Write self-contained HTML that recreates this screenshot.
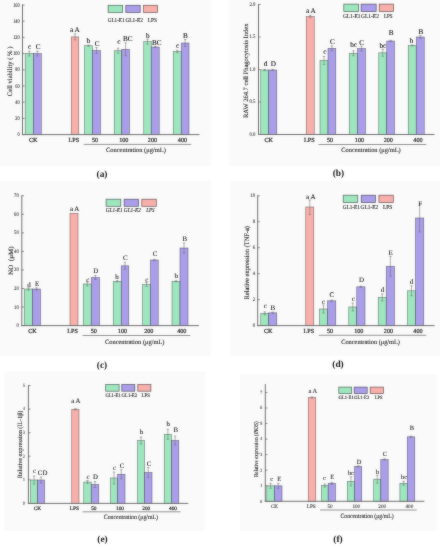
<!DOCTYPE html>
<html><head><meta charset="utf-8"><title>Figure</title>
<style>
html,body{margin:0;padding:0;background:#fff;}
body{width:440px;height:550px;overflow:hidden;}
svg{display:block;font-family:"Liberation Serif",serif;text-rendering:geometricPrecision;will-change:transform;}
#w{width:440px;height:550px;position:absolute;left:0;top:0;}
#b{position:absolute;left:0;top:0;width:440px;height:550px;filter:blur(1px);opacity:0.4;}
</style></head>
<body>
<div id="w">
<svg width="440" height="550" viewBox="0 0 440 550">
<rect x="0" y="0" width="440" height="550" fill="#ffffff"/>
<g id="art">
<rect x="0" y="0" width="211" height="166" fill="#fafafa"/>
<rect x="229" y="0" width="211" height="166" fill="#fafafa"/>
<rect x="0" y="181" width="211" height="175" fill="#fafafa"/>
<rect x="230" y="181" width="210" height="175" fill="#fafafa"/>
<rect x="4.5" y="371.5" width="200.5" height="159.5" fill="#fafafa"/>
<rect x="240" y="374.5" width="197" height="156.5" fill="#fafafa"/>
<rect x="25.20" y="53.50" width="8.20" height="81.10" fill="#9ee7bf" stroke="rgba(0,0,0,0.5)" stroke-width="0.6"/>
<line x1="29.30" y1="51.00" x2="29.30" y2="56.00" stroke="#666" stroke-width="0.5"/>
<line x1="28.10" y1="51.00" x2="30.50" y2="51.00" stroke="#666" stroke-width="0.5"/>
<line x1="28.10" y1="56.00" x2="30.50" y2="56.00" stroke="#666" stroke-width="0.5"/>
<rect x="33.40" y="53.50" width="7.90" height="81.10" fill="#ab9eea" stroke="rgba(0,0,0,0.5)" stroke-width="0.6"/>
<line x1="37.35" y1="51.00" x2="37.35" y2="56.00" stroke="#666" stroke-width="0.5"/>
<line x1="36.15" y1="51.00" x2="38.55" y2="51.00" stroke="#666" stroke-width="0.5"/>
<line x1="36.15" y1="56.00" x2="38.55" y2="56.00" stroke="#666" stroke-width="0.5"/>
<rect x="71.25" y="36.90" width="7.50" height="97.70" fill="#f9afab" stroke="rgba(0,0,0,0.5)" stroke-width="0.6"/>
<line x1="75.00" y1="33.90" x2="75.00" y2="39.90" stroke="#666" stroke-width="0.5"/>
<line x1="73.80" y1="33.90" x2="76.20" y2="33.90" stroke="#666" stroke-width="0.5"/>
<line x1="73.80" y1="39.90" x2="76.20" y2="39.90" stroke="#666" stroke-width="0.5"/>
<rect x="84.50" y="45.70" width="8.00" height="88.90" fill="#9ee7bf" stroke="rgba(0,0,0,0.5)" stroke-width="0.6"/>
<line x1="88.50" y1="45.10" x2="88.50" y2="46.30" stroke="#666" stroke-width="0.5"/>
<line x1="87.30" y1="45.10" x2="89.70" y2="45.10" stroke="#666" stroke-width="0.5"/>
<line x1="87.30" y1="46.30" x2="89.70" y2="46.30" stroke="#666" stroke-width="0.5"/>
<rect x="92.50" y="50.50" width="8.00" height="84.10" fill="#ab9eea" stroke="rgba(0,0,0,0.5)" stroke-width="0.6"/>
<line x1="96.50" y1="47.50" x2="96.50" y2="53.50" stroke="#666" stroke-width="0.5"/>
<line x1="95.30" y1="47.50" x2="97.70" y2="47.50" stroke="#666" stroke-width="0.5"/>
<line x1="95.30" y1="53.50" x2="97.70" y2="53.50" stroke="#666" stroke-width="0.5"/>
<rect x="114.25" y="50.70" width="7.50" height="83.90" fill="#9ee7bf" stroke="rgba(0,0,0,0.5)" stroke-width="0.6"/>
<line x1="118.00" y1="48.20" x2="118.00" y2="53.20" stroke="#666" stroke-width="0.5"/>
<line x1="116.80" y1="48.20" x2="119.20" y2="48.20" stroke="#666" stroke-width="0.5"/>
<line x1="116.80" y1="53.20" x2="119.20" y2="53.20" stroke="#666" stroke-width="0.5"/>
<rect x="121.75" y="49.30" width="7.75" height="85.30" fill="#ab9eea" stroke="rgba(0,0,0,0.5)" stroke-width="0.6"/>
<line x1="125.62" y1="42.80" x2="125.62" y2="55.80" stroke="#666" stroke-width="0.5"/>
<line x1="124.42" y1="42.80" x2="126.83" y2="42.80" stroke="#666" stroke-width="0.5"/>
<line x1="124.42" y1="55.80" x2="126.83" y2="55.80" stroke="#666" stroke-width="0.5"/>
<rect x="143.75" y="41.60" width="7.50" height="93.00" fill="#9ee7bf" stroke="rgba(0,0,0,0.5)" stroke-width="0.6"/>
<line x1="147.50" y1="39.10" x2="147.50" y2="44.10" stroke="#666" stroke-width="0.5"/>
<line x1="146.30" y1="39.10" x2="148.70" y2="39.10" stroke="#666" stroke-width="0.5"/>
<line x1="146.30" y1="44.10" x2="148.70" y2="44.10" stroke="#666" stroke-width="0.5"/>
<rect x="151.25" y="47.00" width="8.00" height="87.60" fill="#ab9eea" stroke="rgba(0,0,0,0.5)" stroke-width="0.6"/>
<line x1="155.25" y1="46.40" x2="155.25" y2="47.60" stroke="#666" stroke-width="0.5"/>
<line x1="154.05" y1="46.40" x2="156.45" y2="46.40" stroke="#666" stroke-width="0.5"/>
<line x1="154.05" y1="47.60" x2="156.45" y2="47.60" stroke="#666" stroke-width="0.5"/>
<rect x="173.25" y="51.50" width="8.00" height="83.10" fill="#9ee7bf" stroke="rgba(0,0,0,0.5)" stroke-width="0.6"/>
<line x1="177.25" y1="50.30" x2="177.25" y2="52.70" stroke="#666" stroke-width="0.5"/>
<line x1="176.05" y1="50.30" x2="178.45" y2="50.30" stroke="#666" stroke-width="0.5"/>
<line x1="176.05" y1="52.70" x2="178.45" y2="52.70" stroke="#666" stroke-width="0.5"/>
<rect x="181.25" y="43.00" width="7.75" height="91.60" fill="#ab9eea" stroke="rgba(0,0,0,0.5)" stroke-width="0.6"/>
<line x1="185.12" y1="39.50" x2="185.12" y2="46.50" stroke="#666" stroke-width="0.5"/>
<line x1="183.93" y1="39.50" x2="186.32" y2="39.50" stroke="#666" stroke-width="0.5"/>
<line x1="183.93" y1="46.50" x2="186.32" y2="46.50" stroke="#666" stroke-width="0.5"/>
<line x1="22.50" y1="4.50" x2="22.50" y2="135.10" stroke="#6e6e6e" stroke-width="1.0"/>
<line x1="22.00" y1="134.60" x2="199.50" y2="134.60" stroke="#6e6e6e" stroke-width="1.0"/>
<line x1="22.50" y1="134.60" x2="24.50" y2="134.60" stroke="#6e6e6e" stroke-width="0.9"/>
<text x="19.60" y="136.15" font-size="5.6" text-anchor="end" font-weight="normal" fill="#2a2a2a" textLength="2.15" lengthAdjust="spacingAndGlyphs" stroke="#2a2a2a" stroke-width="0.08" >0</text>
<line x1="22.50" y1="118.40" x2="24.50" y2="118.40" stroke="#6e6e6e" stroke-width="0.9"/>
<text x="19.60" y="119.95" font-size="5.6" text-anchor="end" font-weight="normal" fill="#2a2a2a" textLength="4.30" lengthAdjust="spacingAndGlyphs" stroke="#2a2a2a" stroke-width="0.08" >20</text>
<line x1="22.50" y1="102.20" x2="24.50" y2="102.20" stroke="#6e6e6e" stroke-width="0.9"/>
<text x="19.60" y="103.75" font-size="5.6" text-anchor="end" font-weight="normal" fill="#2a2a2a" textLength="4.30" lengthAdjust="spacingAndGlyphs" stroke="#2a2a2a" stroke-width="0.08" >40</text>
<line x1="22.50" y1="86.00" x2="24.50" y2="86.00" stroke="#6e6e6e" stroke-width="0.9"/>
<text x="19.60" y="87.55" font-size="5.6" text-anchor="end" font-weight="normal" fill="#2a2a2a" textLength="4.30" lengthAdjust="spacingAndGlyphs" stroke="#2a2a2a" stroke-width="0.08" >60</text>
<line x1="22.50" y1="69.80" x2="24.50" y2="69.80" stroke="#6e6e6e" stroke-width="0.9"/>
<text x="19.60" y="71.35" font-size="5.6" text-anchor="end" font-weight="normal" fill="#2a2a2a" textLength="4.30" lengthAdjust="spacingAndGlyphs" stroke="#2a2a2a" stroke-width="0.08" >80</text>
<line x1="22.50" y1="53.60" x2="24.50" y2="53.60" stroke="#6e6e6e" stroke-width="0.9"/>
<text x="19.60" y="55.15" font-size="5.6" text-anchor="end" font-weight="normal" fill="#2a2a2a" textLength="6.45" lengthAdjust="spacingAndGlyphs" stroke="#2a2a2a" stroke-width="0.08" >100</text>
<line x1="22.50" y1="37.40" x2="24.50" y2="37.40" stroke="#6e6e6e" stroke-width="0.9"/>
<text x="19.60" y="38.95" font-size="5.6" text-anchor="end" font-weight="normal" fill="#2a2a2a" textLength="6.45" lengthAdjust="spacingAndGlyphs" stroke="#2a2a2a" stroke-width="0.08" >120</text>
<line x1="22.50" y1="21.20" x2="24.50" y2="21.20" stroke="#6e6e6e" stroke-width="0.9"/>
<text x="19.60" y="22.75" font-size="5.6" text-anchor="end" font-weight="normal" fill="#2a2a2a" textLength="6.45" lengthAdjust="spacingAndGlyphs" stroke="#2a2a2a" stroke-width="0.08" >140</text>
<line x1="22.50" y1="5.00" x2="24.50" y2="5.00" stroke="#6e6e6e" stroke-width="0.9"/>
<text x="19.60" y="6.55" font-size="5.6" text-anchor="end" font-weight="normal" fill="#2a2a2a" textLength="6.45" lengthAdjust="spacingAndGlyphs" stroke="#2a2a2a" stroke-width="0.08" >160</text>
<text x="29.60" y="48.74" font-size="7.2" text-anchor="middle" font-weight="normal" fill="#000" stroke="#000" stroke-width="0.08">c</text>
<text x="38.10" y="49.18" font-size="7.2" text-anchor="middle" font-weight="normal" fill="#000" stroke="#000" stroke-width="0.08">C</text>
<text x="74.80" y="31.58" font-size="7.2" text-anchor="middle" font-weight="normal" fill="#000" stroke="#000" stroke-width="0.08">a A</text>
<text x="88.30" y="42.58" font-size="7.2" text-anchor="middle" font-weight="normal" fill="#000" stroke="#000" stroke-width="0.08">b</text>
<text x="97.10" y="46.08" font-size="7.2" text-anchor="middle" font-weight="normal" fill="#000" stroke="#000" stroke-width="0.08">C</text>
<text x="118.80" y="43.94" font-size="7.2" text-anchor="middle" font-weight="normal" fill="#000" stroke="#000" stroke-width="0.08">c</text>
<text x="127.80" y="40.98" font-size="7.2" text-anchor="middle" font-weight="normal" fill="#000" stroke="#000" stroke-width="0.08">BC</text>
<text x="147.80" y="38.18" font-size="7.2" text-anchor="middle" font-weight="normal" fill="#000" stroke="#000" stroke-width="0.08">b</text>
<text x="156.80" y="44.78" font-size="7.2" text-anchor="middle" font-weight="normal" fill="#000" stroke="#000" stroke-width="0.08">BC</text>
<text x="177.50" y="47.74" font-size="7.2" text-anchor="middle" font-weight="normal" fill="#000" stroke="#000" stroke-width="0.08">c</text>
<text x="185.50" y="38.48" font-size="7.2" text-anchor="middle" font-weight="normal" fill="#000" stroke="#000" stroke-width="0.08">B</text>
<rect x="108.10" y="5.30" width="14.60" height="7.20" fill="#9ee7bf" stroke="rgba(0,0,0,0.6)" stroke-width="0.7"/>
<text x="116.15" y="21.79" font-size="6.0" text-anchor="middle" font-weight="normal" fill="#222" textLength="16.70" lengthAdjust="spacingAndGlyphs" stroke="#222" stroke-width="0.12" >GL1-E1</text>
<rect x="125.80" y="5.30" width="14.40" height="7.20" fill="#ab9eea" stroke="rgba(0,0,0,0.6)" stroke-width="0.7"/>
<text x="134.15" y="21.79" font-size="6.0" text-anchor="middle" font-weight="normal" fill="#222" textLength="17.50" lengthAdjust="spacingAndGlyphs" stroke="#222" stroke-width="0.12" >GL1-E2</text>
<rect x="143.60" y="5.30" width="14.00" height="7.20" fill="#f9afab" stroke="rgba(0,0,0,0.6)" stroke-width="0.7"/>
<text x="152.30" y="21.79" font-size="6.0" text-anchor="middle" font-weight="normal" fill="#222" textLength="9.20" lengthAdjust="spacingAndGlyphs" stroke="#222" stroke-width="0.12" >LPS</text>
<text x="33.30" y="141.85" font-size="6.2" text-anchor="middle" font-weight="normal" fill="#222" stroke="#222" stroke-width="0.2" >CK</text>
<text x="73.80" y="141.85" font-size="6.2" text-anchor="middle" font-weight="normal" fill="#222" stroke="#222" stroke-width="0.2" >LPS</text>
<text x="95.00" y="142.25" font-size="6.2" text-anchor="middle" font-weight="normal" fill="#222" stroke="#222" stroke-width="0.2" >50</text>
<text x="123.80" y="142.25" font-size="6.2" text-anchor="middle" font-weight="normal" fill="#222" stroke="#222" stroke-width="0.2" >100</text>
<text x="152.50" y="142.25" font-size="6.2" text-anchor="middle" font-weight="normal" fill="#222" stroke="#222" stroke-width="0.2" >200</text>
<text x="182.50" y="142.25" font-size="6.2" text-anchor="middle" font-weight="normal" fill="#222" stroke="#222" stroke-width="0.2" >400</text>
<line x1="83.75" y1="144.40" x2="191.25" y2="144.40" stroke="#777" stroke-width="0.8"/>
<text x="135.90" y="152.38" font-size="6.6" text-anchor="middle" font-weight="normal" fill="#222" textLength="59.80" lengthAdjust="spacingAndGlyphs" stroke="#222" stroke-width="0.1" >Concentration (&#956;g/mL)</text>
<text x="102.00" y="176.61" font-size="9.4" text-anchor="middle" font-weight="bold" fill="#111" >(a)</text>
<text x="9.60" y="73.65" font-size="6.8" text-anchor="middle" font-weight="normal" fill="#222" textLength="49.50" lengthAdjust="spacingAndGlyphs" stroke="#222" stroke-width="0.1" transform="rotate(-90 9.60 71.40)">Cell viability  ( % )</text>
<rect x="260.75" y="70.00" width="8.00" height="64.50" fill="#9ee7bf" stroke="rgba(0,0,0,0.5)" stroke-width="0.6"/>
<line x1="264.75" y1="69.40" x2="264.75" y2="70.60" stroke="#666" stroke-width="0.5"/>
<line x1="263.55" y1="69.40" x2="265.95" y2="69.40" stroke="#666" stroke-width="0.5"/>
<line x1="263.55" y1="70.60" x2="265.95" y2="70.60" stroke="#666" stroke-width="0.5"/>
<rect x="268.75" y="70.00" width="8.00" height="64.50" fill="#ab9eea" stroke="rgba(0,0,0,0.5)" stroke-width="0.6"/>
<line x1="272.75" y1="69.40" x2="272.75" y2="70.60" stroke="#666" stroke-width="0.5"/>
<line x1="271.55" y1="69.40" x2="273.95" y2="69.40" stroke="#666" stroke-width="0.5"/>
<line x1="271.55" y1="70.60" x2="273.95" y2="70.60" stroke="#666" stroke-width="0.5"/>
<rect x="306.25" y="16.50" width="8.00" height="118.00" fill="#f9afab" stroke="rgba(0,0,0,0.5)" stroke-width="0.6"/>
<line x1="310.25" y1="15.30" x2="310.25" y2="17.70" stroke="#666" stroke-width="0.5"/>
<line x1="309.05" y1="15.30" x2="311.45" y2="15.30" stroke="#666" stroke-width="0.5"/>
<line x1="309.05" y1="17.70" x2="311.45" y2="17.70" stroke="#666" stroke-width="0.5"/>
<rect x="320.00" y="60.50" width="8.00" height="74.00" fill="#9ee7bf" stroke="rgba(0,0,0,0.5)" stroke-width="0.6"/>
<line x1="324.00" y1="56.50" x2="324.00" y2="64.50" stroke="#666" stroke-width="0.5"/>
<line x1="322.80" y1="56.50" x2="325.20" y2="56.50" stroke="#666" stroke-width="0.5"/>
<line x1="322.80" y1="64.50" x2="325.20" y2="64.50" stroke="#666" stroke-width="0.5"/>
<rect x="328.00" y="48.30" width="7.75" height="86.20" fill="#ab9eea" stroke="rgba(0,0,0,0.5)" stroke-width="0.6"/>
<line x1="331.88" y1="45.80" x2="331.88" y2="50.80" stroke="#666" stroke-width="0.5"/>
<line x1="330.68" y1="45.80" x2="333.07" y2="45.80" stroke="#666" stroke-width="0.5"/>
<line x1="330.68" y1="50.80" x2="333.07" y2="50.80" stroke="#666" stroke-width="0.5"/>
<rect x="349.25" y="53.30" width="8.25" height="81.20" fill="#9ee7bf" stroke="rgba(0,0,0,0.5)" stroke-width="0.6"/>
<line x1="353.38" y1="50.80" x2="353.38" y2="55.80" stroke="#666" stroke-width="0.5"/>
<line x1="352.18" y1="50.80" x2="354.57" y2="50.80" stroke="#666" stroke-width="0.5"/>
<line x1="352.18" y1="55.80" x2="354.57" y2="55.80" stroke="#666" stroke-width="0.5"/>
<rect x="357.50" y="48.50" width="8.00" height="86.00" fill="#ab9eea" stroke="rgba(0,0,0,0.5)" stroke-width="0.6"/>
<line x1="361.50" y1="46.00" x2="361.50" y2="51.00" stroke="#666" stroke-width="0.5"/>
<line x1="360.30" y1="46.00" x2="362.70" y2="46.00" stroke="#666" stroke-width="0.5"/>
<line x1="360.30" y1="51.00" x2="362.70" y2="51.00" stroke="#666" stroke-width="0.5"/>
<rect x="378.75" y="52.80" width="8.00" height="81.70" fill="#9ee7bf" stroke="rgba(0,0,0,0.5)" stroke-width="0.6"/>
<line x1="382.75" y1="49.30" x2="382.75" y2="56.30" stroke="#666" stroke-width="0.5"/>
<line x1="381.55" y1="49.30" x2="383.95" y2="49.30" stroke="#666" stroke-width="0.5"/>
<line x1="381.55" y1="56.30" x2="383.95" y2="56.30" stroke="#666" stroke-width="0.5"/>
<rect x="386.75" y="41.00" width="7.75" height="93.50" fill="#ab9eea" stroke="rgba(0,0,0,0.5)" stroke-width="0.6"/>
<line x1="390.62" y1="40.40" x2="390.62" y2="41.60" stroke="#666" stroke-width="0.5"/>
<line x1="389.43" y1="40.40" x2="391.82" y2="40.40" stroke="#666" stroke-width="0.5"/>
<line x1="389.43" y1="41.60" x2="391.82" y2="41.60" stroke="#666" stroke-width="0.5"/>
<rect x="408.25" y="45.50" width="8.00" height="89.00" fill="#9ee7bf" stroke="rgba(0,0,0,0.5)" stroke-width="0.6"/>
<line x1="412.25" y1="44.90" x2="412.25" y2="46.10" stroke="#666" stroke-width="0.5"/>
<line x1="411.05" y1="44.90" x2="413.45" y2="44.90" stroke="#666" stroke-width="0.5"/>
<line x1="411.05" y1="46.10" x2="413.45" y2="46.10" stroke="#666" stroke-width="0.5"/>
<rect x="416.25" y="37.00" width="8.00" height="97.50" fill="#ab9eea" stroke="rgba(0,0,0,0.5)" stroke-width="0.6"/>
<line x1="420.25" y1="35.70" x2="420.25" y2="38.30" stroke="#666" stroke-width="0.5"/>
<line x1="419.05" y1="35.70" x2="421.45" y2="35.70" stroke="#666" stroke-width="0.5"/>
<line x1="419.05" y1="38.30" x2="421.45" y2="38.30" stroke="#666" stroke-width="0.5"/>
<line x1="258.50" y1="4.00" x2="258.50" y2="135.00" stroke="#6e6e6e" stroke-width="1.0"/>
<line x1="258.00" y1="134.50" x2="434.50" y2="134.50" stroke="#6e6e6e" stroke-width="1.0"/>
<line x1="258.50" y1="134.50" x2="260.50" y2="134.50" stroke="#6e6e6e" stroke-width="0.9"/>
<text x="255.40" y="135.99" font-size="5.4" text-anchor="end" font-weight="normal" fill="#2a2a2a" textLength="6.00" lengthAdjust="spacingAndGlyphs" stroke="#2a2a2a" stroke-width="0.08" >0.0</text>
<line x1="258.50" y1="102.00" x2="260.50" y2="102.00" stroke="#6e6e6e" stroke-width="0.9"/>
<text x="255.40" y="103.49" font-size="5.4" text-anchor="end" font-weight="normal" fill="#2a2a2a" textLength="6.00" lengthAdjust="spacingAndGlyphs" stroke="#2a2a2a" stroke-width="0.08" >0.5</text>
<line x1="258.50" y1="69.50" x2="260.50" y2="69.50" stroke="#6e6e6e" stroke-width="0.9"/>
<text x="255.40" y="70.99" font-size="5.4" text-anchor="end" font-weight="normal" fill="#2a2a2a" textLength="6.00" lengthAdjust="spacingAndGlyphs" stroke="#2a2a2a" stroke-width="0.08" >1.0</text>
<line x1="258.50" y1="37.00" x2="260.50" y2="37.00" stroke="#6e6e6e" stroke-width="0.9"/>
<text x="255.40" y="38.49" font-size="5.4" text-anchor="end" font-weight="normal" fill="#2a2a2a" textLength="6.00" lengthAdjust="spacingAndGlyphs" stroke="#2a2a2a" stroke-width="0.08" >1.5</text>
<line x1="258.50" y1="4.50" x2="260.50" y2="4.50" stroke="#6e6e6e" stroke-width="0.9"/>
<text x="255.40" y="5.99" font-size="5.4" text-anchor="end" font-weight="normal" fill="#2a2a2a" textLength="6.00" lengthAdjust="spacingAndGlyphs" stroke="#2a2a2a" stroke-width="0.08" >2.0</text>
<text x="265.60" y="65.88" font-size="7.2" text-anchor="middle" font-weight="normal" fill="#000" stroke="#000" stroke-width="0.08">d</text>
<text x="273.30" y="65.88" font-size="7.2" text-anchor="middle" font-weight="normal" fill="#000" stroke="#000" stroke-width="0.08">D</text>
<text x="310.80" y="13.48" font-size="7.2" text-anchor="middle" font-weight="normal" fill="#000" stroke="#000" stroke-width="0.08">a A</text>
<text x="324.80" y="53.94" font-size="7.2" text-anchor="middle" font-weight="normal" fill="#000" stroke="#000" stroke-width="0.08">c</text>
<text x="332.30" y="44.18" font-size="7.2" text-anchor="middle" font-weight="normal" fill="#000" stroke="#000" stroke-width="0.08">C</text>
<text x="353.60" y="47.18" font-size="7.2" text-anchor="middle" font-weight="normal" fill="#000" stroke="#000" stroke-width="0.08">bc</text>
<text x="361.60" y="45.18" font-size="7.2" text-anchor="middle" font-weight="normal" fill="#000" stroke="#000" stroke-width="0.08">C</text>
<text x="382.80" y="47.68" font-size="7.2" text-anchor="middle" font-weight="normal" fill="#000" stroke="#000" stroke-width="0.08">bc</text>
<text x="391.10" y="34.68" font-size="7.2" text-anchor="middle" font-weight="normal" fill="#000" stroke="#000" stroke-width="0.08">B</text>
<text x="411.60" y="42.68" font-size="7.2" text-anchor="middle" font-weight="normal" fill="#000" stroke="#000" stroke-width="0.08">b</text>
<text x="420.80" y="33.98" font-size="7.2" text-anchor="middle" font-weight="normal" fill="#000" stroke="#000" stroke-width="0.08">B</text>
<rect x="343.80" y="4.10" width="14.90" height="7.50" fill="#9ee7bf" stroke="rgba(0,0,0,0.6)" stroke-width="0.7"/>
<text x="351.75" y="17.69" font-size="6.0" text-anchor="middle" font-weight="normal" fill="#222" textLength="17.50" lengthAdjust="spacingAndGlyphs" stroke="#222" stroke-width="0.12" >GL1-E1</text>
<rect x="361.10" y="4.10" width="15.10" height="7.50" fill="#ab9eea" stroke="rgba(0,0,0,0.6)" stroke-width="0.7"/>
<text x="370.00" y="17.69" font-size="6.0" text-anchor="middle" font-weight="normal" fill="#222" textLength="17.80" lengthAdjust="spacingAndGlyphs" stroke="#222" stroke-width="0.12" >GL1-E2</text>
<rect x="379.20" y="4.10" width="14.30" height="7.50" fill="#f9afab" stroke="rgba(0,0,0,0.6)" stroke-width="0.7"/>
<text x="388.20" y="17.69" font-size="6.0" text-anchor="middle" font-weight="normal" fill="#222" textLength="8.60" lengthAdjust="spacingAndGlyphs" stroke="#222" stroke-width="0.12" >LPS</text>
<text x="268.80" y="141.65" font-size="6.2" text-anchor="middle" font-weight="normal" fill="#222" stroke="#222" stroke-width="0.2" >CK</text>
<text x="309.30" y="141.65" font-size="6.2" text-anchor="middle" font-weight="normal" fill="#222" stroke="#222" stroke-width="0.2" >LPS</text>
<text x="330.00" y="142.05" font-size="6.2" text-anchor="middle" font-weight="normal" fill="#222" stroke="#222" stroke-width="0.2" >50</text>
<text x="359.50" y="142.05" font-size="6.2" text-anchor="middle" font-weight="normal" fill="#222" stroke="#222" stroke-width="0.2" >100</text>
<text x="388.30" y="142.05" font-size="6.2" text-anchor="middle" font-weight="normal" fill="#222" stroke="#222" stroke-width="0.2" >200</text>
<text x="418.00" y="142.05" font-size="6.2" text-anchor="middle" font-weight="normal" fill="#222" stroke="#222" stroke-width="0.2" >400</text>
<line x1="318.50" y1="144.50" x2="426.25" y2="144.50" stroke="#777" stroke-width="0.8"/>
<text x="371.00" y="152.38" font-size="6.6" text-anchor="middle" font-weight="normal" fill="#222" textLength="59.50" lengthAdjust="spacingAndGlyphs" stroke="#222" stroke-width="0.1" >Concentration (&#956;g/mL)</text>
<text x="338.40" y="176.41" font-size="9.4" text-anchor="middle" font-weight="bold" fill="#111" >(b)</text>
<text x="245.80" y="72.98" font-size="6.6" text-anchor="middle" font-weight="normal" fill="#222" textLength="94.40" lengthAdjust="spacingAndGlyphs" stroke="#222" stroke-width="0.1" transform="rotate(-90 245.80 70.80)">RAW 264.7 cell Phagocytosis Index</text>
<rect x="24.25" y="289.00" width="8.25" height="36.60" fill="#9ee7bf" stroke="rgba(0,0,0,0.5)" stroke-width="0.6"/>
<line x1="28.38" y1="287.80" x2="28.38" y2="290.20" stroke="#666" stroke-width="0.5"/>
<line x1="27.18" y1="287.80" x2="29.57" y2="287.80" stroke="#666" stroke-width="0.5"/>
<line x1="27.18" y1="290.20" x2="29.57" y2="290.20" stroke="#666" stroke-width="0.5"/>
<rect x="32.50" y="289.00" width="8.00" height="36.60" fill="#ab9eea" stroke="rgba(0,0,0,0.5)" stroke-width="0.6"/>
<line x1="36.50" y1="287.80" x2="36.50" y2="290.20" stroke="#666" stroke-width="0.5"/>
<line x1="35.30" y1="287.80" x2="37.70" y2="287.80" stroke="#666" stroke-width="0.5"/>
<line x1="35.30" y1="290.20" x2="37.70" y2="290.20" stroke="#666" stroke-width="0.5"/>
<rect x="70.00" y="213.30" width="8.00" height="112.30" fill="#f9afab" stroke="rgba(0,0,0,0.5)" stroke-width="0.6"/>
<rect x="83.25" y="284.00" width="8.00" height="41.60" fill="#9ee7bf" stroke="rgba(0,0,0,0.5)" stroke-width="0.6"/>
<line x1="87.25" y1="282.00" x2="87.25" y2="286.00" stroke="#666" stroke-width="0.5"/>
<line x1="86.05" y1="282.00" x2="88.45" y2="282.00" stroke="#666" stroke-width="0.5"/>
<line x1="86.05" y1="286.00" x2="88.45" y2="286.00" stroke="#666" stroke-width="0.5"/>
<rect x="91.25" y="277.50" width="8.25" height="48.10" fill="#ab9eea" stroke="rgba(0,0,0,0.5)" stroke-width="0.6"/>
<line x1="95.38" y1="275.50" x2="95.38" y2="279.50" stroke="#666" stroke-width="0.5"/>
<line x1="94.17" y1="275.50" x2="96.58" y2="275.50" stroke="#666" stroke-width="0.5"/>
<line x1="94.17" y1="279.50" x2="96.58" y2="279.50" stroke="#666" stroke-width="0.5"/>
<rect x="113.25" y="281.30" width="8.00" height="44.30" fill="#9ee7bf" stroke="rgba(0,0,0,0.5)" stroke-width="0.6"/>
<line x1="117.25" y1="280.70" x2="117.25" y2="281.90" stroke="#666" stroke-width="0.5"/>
<line x1="116.05" y1="280.70" x2="118.45" y2="280.70" stroke="#666" stroke-width="0.5"/>
<line x1="116.05" y1="281.90" x2="118.45" y2="281.90" stroke="#666" stroke-width="0.5"/>
<rect x="121.25" y="265.80" width="7.50" height="59.80" fill="#ab9eea" stroke="rgba(0,0,0,0.5)" stroke-width="0.6"/>
<line x1="125.00" y1="262.30" x2="125.00" y2="269.30" stroke="#666" stroke-width="0.5"/>
<line x1="123.80" y1="262.30" x2="126.20" y2="262.30" stroke="#666" stroke-width="0.5"/>
<line x1="123.80" y1="269.30" x2="126.20" y2="269.30" stroke="#666" stroke-width="0.5"/>
<rect x="142.50" y="284.50" width="8.00" height="41.10" fill="#9ee7bf" stroke="rgba(0,0,0,0.5)" stroke-width="0.6"/>
<line x1="146.50" y1="282.50" x2="146.50" y2="286.50" stroke="#666" stroke-width="0.5"/>
<line x1="145.30" y1="282.50" x2="147.70" y2="282.50" stroke="#666" stroke-width="0.5"/>
<line x1="145.30" y1="286.50" x2="147.70" y2="286.50" stroke="#666" stroke-width="0.5"/>
<rect x="150.50" y="260.00" width="7.75" height="65.60" fill="#ab9eea" stroke="rgba(0,0,0,0.5)" stroke-width="0.6"/>
<line x1="154.38" y1="259.40" x2="154.38" y2="260.60" stroke="#666" stroke-width="0.5"/>
<line x1="153.18" y1="259.40" x2="155.57" y2="259.40" stroke="#666" stroke-width="0.5"/>
<line x1="153.18" y1="260.60" x2="155.57" y2="260.60" stroke="#666" stroke-width="0.5"/>
<rect x="172.00" y="281.30" width="8.00" height="44.30" fill="#9ee7bf" stroke="rgba(0,0,0,0.5)" stroke-width="0.6"/>
<line x1="176.00" y1="280.70" x2="176.00" y2="281.90" stroke="#666" stroke-width="0.5"/>
<line x1="174.80" y1="280.70" x2="177.20" y2="280.70" stroke="#666" stroke-width="0.5"/>
<line x1="174.80" y1="281.90" x2="177.20" y2="281.90" stroke="#666" stroke-width="0.5"/>
<rect x="180.00" y="248.00" width="8.00" height="77.60" fill="#ab9eea" stroke="rgba(0,0,0,0.5)" stroke-width="0.6"/>
<line x1="184.00" y1="243.00" x2="184.00" y2="253.00" stroke="#666" stroke-width="0.5"/>
<line x1="182.80" y1="243.00" x2="185.20" y2="243.00" stroke="#666" stroke-width="0.5"/>
<line x1="182.80" y1="253.00" x2="185.20" y2="253.00" stroke="#666" stroke-width="0.5"/>
<line x1="21.80" y1="195.25" x2="21.80" y2="326.10" stroke="#6e6e6e" stroke-width="1.0"/>
<line x1="21.30" y1="325.60" x2="198.90" y2="325.60" stroke="#6e6e6e" stroke-width="1.0"/>
<line x1="21.80" y1="325.60" x2="23.80" y2="325.60" stroke="#6e6e6e" stroke-width="0.9"/>
<text x="18.80" y="327.09" font-size="5.4" text-anchor="end" font-weight="normal" fill="#2a2a2a" textLength="2.35" lengthAdjust="spacingAndGlyphs" stroke="#2a2a2a" stroke-width="0.08" >0</text>
<line x1="21.80" y1="307.05" x2="23.80" y2="307.05" stroke="#6e6e6e" stroke-width="0.9"/>
<text x="18.80" y="308.54" font-size="5.4" text-anchor="end" font-weight="normal" fill="#2a2a2a" textLength="4.70" lengthAdjust="spacingAndGlyphs" stroke="#2a2a2a" stroke-width="0.08" >10</text>
<line x1="21.80" y1="288.50" x2="23.80" y2="288.50" stroke="#6e6e6e" stroke-width="0.9"/>
<text x="18.80" y="289.99" font-size="5.4" text-anchor="end" font-weight="normal" fill="#2a2a2a" textLength="4.70" lengthAdjust="spacingAndGlyphs" stroke="#2a2a2a" stroke-width="0.08" >20</text>
<line x1="21.80" y1="269.95" x2="23.80" y2="269.95" stroke="#6e6e6e" stroke-width="0.9"/>
<text x="18.80" y="271.44" font-size="5.4" text-anchor="end" font-weight="normal" fill="#2a2a2a" textLength="4.70" lengthAdjust="spacingAndGlyphs" stroke="#2a2a2a" stroke-width="0.08" >30</text>
<line x1="21.80" y1="251.40" x2="23.80" y2="251.40" stroke="#6e6e6e" stroke-width="0.9"/>
<text x="18.80" y="252.89" font-size="5.4" text-anchor="end" font-weight="normal" fill="#2a2a2a" textLength="4.70" lengthAdjust="spacingAndGlyphs" stroke="#2a2a2a" stroke-width="0.08" >40</text>
<line x1="21.80" y1="232.85" x2="23.80" y2="232.85" stroke="#6e6e6e" stroke-width="0.9"/>
<text x="18.80" y="234.34" font-size="5.4" text-anchor="end" font-weight="normal" fill="#2a2a2a" textLength="4.70" lengthAdjust="spacingAndGlyphs" stroke="#2a2a2a" stroke-width="0.08" >50</text>
<line x1="21.80" y1="214.30" x2="23.80" y2="214.30" stroke="#6e6e6e" stroke-width="0.9"/>
<text x="18.80" y="215.79" font-size="5.4" text-anchor="end" font-weight="normal" fill="#2a2a2a" textLength="4.70" lengthAdjust="spacingAndGlyphs" stroke="#2a2a2a" stroke-width="0.08" >60</text>
<line x1="21.80" y1="195.75" x2="23.80" y2="195.75" stroke="#6e6e6e" stroke-width="0.9"/>
<text x="18.80" y="197.24" font-size="5.4" text-anchor="end" font-weight="normal" fill="#2a2a2a" textLength="4.70" lengthAdjust="spacingAndGlyphs" stroke="#2a2a2a" stroke-width="0.08" >70</text>
<text x="29.10" y="286.68" font-size="6.9" text-anchor="middle" font-weight="normal" fill="#111" stroke="#111" stroke-width="0.08">d</text>
<text x="37.10" y="286.38" font-size="6.9" text-anchor="middle" font-weight="normal" fill="#111" stroke="#111" stroke-width="0.08">E</text>
<text x="74.60" y="211.38" font-size="6.9" text-anchor="middle" font-weight="normal" fill="#111" stroke="#111" stroke-width="0.08">a A</text>
<text x="87.80" y="281.87" font-size="6.9" text-anchor="middle" font-weight="normal" fill="#111" stroke="#111" stroke-width="0.08">c</text>
<text x="95.80" y="273.38" font-size="6.9" text-anchor="middle" font-weight="normal" fill="#111" stroke="#111" stroke-width="0.08">D</text>
<text x="117.10" y="278.58" font-size="6.9" text-anchor="middle" font-weight="normal" fill="#111" stroke="#111" stroke-width="0.08">b</text>
<text x="125.30" y="260.38" font-size="6.9" text-anchor="middle" font-weight="normal" fill="#111" stroke="#111" stroke-width="0.08">C</text>
<text x="146.90" y="281.77" font-size="6.9" text-anchor="middle" font-weight="normal" fill="#111" stroke="#111" stroke-width="0.08">c</text>
<text x="155.00" y="255.58" font-size="6.9" text-anchor="middle" font-weight="normal" fill="#111" stroke="#111" stroke-width="0.08">C</text>
<text x="176.30" y="278.38" font-size="6.9" text-anchor="middle" font-weight="normal" fill="#111" stroke="#111" stroke-width="0.08">b</text>
<text x="184.70" y="240.88" font-size="6.9" text-anchor="middle" font-weight="normal" fill="#111" stroke="#111" stroke-width="0.08">B</text>
<rect x="106.10" y="199.20" width="14.70" height="7.10" fill="#9ee7bf" stroke="rgba(0,0,0,0.6)" stroke-width="0.7"/>
<text x="114.25" y="212.29" font-size="6.0" text-anchor="middle" font-weight="normal" fill="#222" textLength="16.90" lengthAdjust="spacingAndGlyphs" stroke="#222" stroke-width="0.12" font-style="italic">GL1-E1</text>
<rect x="124.10" y="199.20" width="14.50" height="7.10" fill="#ab9eea" stroke="rgba(0,0,0,0.6)" stroke-width="0.7"/>
<text x="132.35" y="212.29" font-size="6.0" text-anchor="middle" font-weight="normal" fill="#222" textLength="17.10" lengthAdjust="spacingAndGlyphs" stroke="#222" stroke-width="0.12" font-style="italic">GL1-E2</text>
<rect x="141.80" y="199.20" width="14.50" height="7.10" fill="#f9afab" stroke="rgba(0,0,0,0.6)" stroke-width="0.7"/>
<text x="150.40" y="212.29" font-size="6.0" text-anchor="middle" font-weight="normal" fill="#222" textLength="8.20" lengthAdjust="spacingAndGlyphs" stroke="#222" stroke-width="0.12" font-style="italic">LPS</text>
<text x="32.50" y="332.85" font-size="6.2" text-anchor="middle" font-weight="normal" fill="#222" stroke="#222" stroke-width="0.2" >CK</text>
<text x="72.50" y="332.85" font-size="6.2" text-anchor="middle" font-weight="normal" fill="#222" stroke="#222" stroke-width="0.2" >LPS</text>
<text x="93.80" y="333.25" font-size="6.2" text-anchor="middle" font-weight="normal" fill="#222" stroke="#222" stroke-width="0.2" >50</text>
<text x="122.50" y="333.25" font-size="6.2" text-anchor="middle" font-weight="normal" fill="#222" stroke="#222" stroke-width="0.2" >100</text>
<text x="148.80" y="333.25" font-size="6.2" text-anchor="middle" font-weight="normal" fill="#222" stroke="#222" stroke-width="0.2" >200</text>
<text x="181.80" y="333.25" font-size="6.2" text-anchor="middle" font-weight="normal" fill="#222" stroke="#222" stroke-width="0.2" >400</text>
<line x1="82.50" y1="335.50" x2="190.30" y2="335.50" stroke="#777" stroke-width="0.8"/>
<text x="134.75" y="343.68" font-size="6.6" text-anchor="middle" font-weight="normal" fill="#222" textLength="59.50" lengthAdjust="spacingAndGlyphs" stroke="#222" stroke-width="0.1" >Concentration (&#956;g/mL)</text>
<text x="102.00" y="367.61" font-size="9.4" text-anchor="middle" font-weight="bold" fill="#111" >(c)</text>
<text x="10.60" y="262.88" font-size="6.6" text-anchor="middle" font-weight="normal" fill="#222" textLength="28.60" lengthAdjust="spacingAndGlyphs" stroke="#222" stroke-width="0.1" transform="rotate(-90 10.60 260.70)">NO &#160;(&#956;M)</text>
<rect x="260.75" y="313.30" width="8.00" height="12.30" fill="#9ee7bf" stroke="rgba(0,0,0,0.5)" stroke-width="0.6"/>
<line x1="264.75" y1="311.80" x2="264.75" y2="314.80" stroke="#666" stroke-width="0.5"/>
<line x1="263.55" y1="311.80" x2="265.95" y2="311.80" stroke="#666" stroke-width="0.5"/>
<line x1="263.55" y1="314.80" x2="265.95" y2="314.80" stroke="#666" stroke-width="0.5"/>
<rect x="268.75" y="312.80" width="8.00" height="12.80" fill="#ab9eea" stroke="rgba(0,0,0,0.5)" stroke-width="0.6"/>
<line x1="272.75" y1="312.20" x2="272.75" y2="313.40" stroke="#666" stroke-width="0.5"/>
<line x1="271.55" y1="312.20" x2="273.95" y2="312.20" stroke="#666" stroke-width="0.5"/>
<line x1="271.55" y1="313.40" x2="273.95" y2="313.40" stroke="#666" stroke-width="0.5"/>
<rect x="305.75" y="207.00" width="8.00" height="118.60" fill="#f9afab" stroke="rgba(0,0,0,0.5)" stroke-width="0.6"/>
<line x1="309.75" y1="200.00" x2="309.75" y2="214.50" stroke="#666" stroke-width="0.5"/>
<line x1="308.55" y1="200.00" x2="310.95" y2="200.00" stroke="#666" stroke-width="0.5"/>
<line x1="308.55" y1="214.50" x2="310.95" y2="214.50" stroke="#666" stroke-width="0.5"/>
<rect x="319.50" y="309.00" width="8.00" height="16.60" fill="#9ee7bf" stroke="rgba(0,0,0,0.5)" stroke-width="0.6"/>
<line x1="323.50" y1="305.00" x2="323.50" y2="313.00" stroke="#666" stroke-width="0.5"/>
<line x1="322.30" y1="305.00" x2="324.70" y2="305.00" stroke="#666" stroke-width="0.5"/>
<line x1="322.30" y1="313.00" x2="324.70" y2="313.00" stroke="#666" stroke-width="0.5"/>
<rect x="327.50" y="300.80" width="8.25" height="24.80" fill="#ab9eea" stroke="rgba(0,0,0,0.5)" stroke-width="0.6"/>
<line x1="331.62" y1="300.20" x2="331.62" y2="301.40" stroke="#666" stroke-width="0.5"/>
<line x1="330.43" y1="300.20" x2="332.82" y2="300.20" stroke="#666" stroke-width="0.5"/>
<line x1="330.43" y1="301.40" x2="332.82" y2="301.40" stroke="#666" stroke-width="0.5"/>
<rect x="348.75" y="307.00" width="8.00" height="18.60" fill="#9ee7bf" stroke="rgba(0,0,0,0.5)" stroke-width="0.6"/>
<line x1="352.75" y1="303.00" x2="352.75" y2="311.00" stroke="#666" stroke-width="0.5"/>
<line x1="351.55" y1="303.00" x2="353.95" y2="303.00" stroke="#666" stroke-width="0.5"/>
<line x1="351.55" y1="311.00" x2="353.95" y2="311.00" stroke="#666" stroke-width="0.5"/>
<rect x="356.75" y="286.80" width="8.25" height="38.80" fill="#ab9eea" stroke="rgba(0,0,0,0.5)" stroke-width="0.6"/>
<line x1="360.88" y1="286.20" x2="360.88" y2="287.40" stroke="#666" stroke-width="0.5"/>
<line x1="359.68" y1="286.20" x2="362.07" y2="286.20" stroke="#666" stroke-width="0.5"/>
<line x1="359.68" y1="287.40" x2="362.07" y2="287.40" stroke="#666" stroke-width="0.5"/>
<rect x="378.25" y="297.50" width="8.00" height="28.10" fill="#9ee7bf" stroke="rgba(0,0,0,0.5)" stroke-width="0.6"/>
<line x1="382.25" y1="294.00" x2="382.25" y2="301.00" stroke="#666" stroke-width="0.5"/>
<line x1="381.05" y1="294.00" x2="383.45" y2="294.00" stroke="#666" stroke-width="0.5"/>
<line x1="381.05" y1="301.00" x2="383.45" y2="301.00" stroke="#666" stroke-width="0.5"/>
<rect x="386.25" y="266.30" width="8.25" height="59.30" fill="#ab9eea" stroke="rgba(0,0,0,0.5)" stroke-width="0.6"/>
<line x1="390.38" y1="256.30" x2="390.38" y2="276.30" stroke="#666" stroke-width="0.5"/>
<line x1="389.18" y1="256.30" x2="391.57" y2="256.30" stroke="#666" stroke-width="0.5"/>
<line x1="389.18" y1="276.30" x2="391.57" y2="276.30" stroke="#666" stroke-width="0.5"/>
<rect x="407.50" y="290.80" width="8.00" height="34.80" fill="#9ee7bf" stroke="rgba(0,0,0,0.5)" stroke-width="0.6"/>
<line x1="411.50" y1="285.80" x2="411.50" y2="295.80" stroke="#666" stroke-width="0.5"/>
<line x1="410.30" y1="285.80" x2="412.70" y2="285.80" stroke="#666" stroke-width="0.5"/>
<line x1="410.30" y1="295.80" x2="412.70" y2="295.80" stroke="#666" stroke-width="0.5"/>
<rect x="415.50" y="218.00" width="8.25" height="107.60" fill="#ab9eea" stroke="rgba(0,0,0,0.5)" stroke-width="0.6"/>
<line x1="419.62" y1="204.00" x2="419.62" y2="232.00" stroke="#666" stroke-width="0.5"/>
<line x1="418.43" y1="204.00" x2="420.82" y2="204.00" stroke="#666" stroke-width="0.5"/>
<line x1="418.43" y1="232.00" x2="420.82" y2="232.00" stroke="#666" stroke-width="0.5"/>
<line x1="257.70" y1="195.25" x2="257.70" y2="326.10" stroke="#6e6e6e" stroke-width="1.0"/>
<line x1="257.20" y1="325.60" x2="434.50" y2="325.60" stroke="#6e6e6e" stroke-width="1.0"/>
<line x1="257.70" y1="325.60" x2="259.70" y2="325.60" stroke="#6e6e6e" stroke-width="0.9"/>
<text x="255.00" y="327.09" font-size="5.4" text-anchor="end" font-weight="normal" fill="#2a2a2a" textLength="2.35" lengthAdjust="spacingAndGlyphs" stroke="#2a2a2a" stroke-width="0.08" >0</text>
<line x1="257.70" y1="299.63" x2="259.70" y2="299.63" stroke="#6e6e6e" stroke-width="0.9"/>
<text x="255.00" y="301.12" font-size="5.4" text-anchor="end" font-weight="normal" fill="#2a2a2a" textLength="2.35" lengthAdjust="spacingAndGlyphs" stroke="#2a2a2a" stroke-width="0.08" >2</text>
<line x1="257.70" y1="273.66" x2="259.70" y2="273.66" stroke="#6e6e6e" stroke-width="0.9"/>
<text x="255.00" y="275.15" font-size="5.4" text-anchor="end" font-weight="normal" fill="#2a2a2a" textLength="2.35" lengthAdjust="spacingAndGlyphs" stroke="#2a2a2a" stroke-width="0.08" >4</text>
<line x1="257.70" y1="247.69" x2="259.70" y2="247.69" stroke="#6e6e6e" stroke-width="0.9"/>
<text x="255.00" y="249.18" font-size="5.4" text-anchor="end" font-weight="normal" fill="#2a2a2a" textLength="2.35" lengthAdjust="spacingAndGlyphs" stroke="#2a2a2a" stroke-width="0.08" >6</text>
<line x1="257.70" y1="221.72" x2="259.70" y2="221.72" stroke="#6e6e6e" stroke-width="0.9"/>
<text x="255.00" y="223.21" font-size="5.4" text-anchor="end" font-weight="normal" fill="#2a2a2a" textLength="2.35" lengthAdjust="spacingAndGlyphs" stroke="#2a2a2a" stroke-width="0.08" >8</text>
<line x1="257.70" y1="195.75" x2="259.70" y2="195.75" stroke="#6e6e6e" stroke-width="0.9"/>
<text x="255.00" y="197.24" font-size="5.4" text-anchor="end" font-weight="normal" fill="#2a2a2a" textLength="4.70" lengthAdjust="spacingAndGlyphs" stroke="#2a2a2a" stroke-width="0.08" >10</text>
<text x="265.30" y="307.90" font-size="7.0" text-anchor="middle" font-weight="normal" fill="#111" stroke="#111" stroke-width="0.08">c</text>
<text x="272.80" y="309.92" font-size="7.0" text-anchor="middle" font-weight="normal" fill="#111" stroke="#111" stroke-width="0.08">B</text>
<text x="310.80" y="198.92" font-size="7.0" text-anchor="middle" font-weight="normal" fill="#111" stroke="#111" stroke-width="0.08">a A</text>
<text x="323.60" y="303.70" font-size="7.0" text-anchor="middle" font-weight="normal" fill="#111" stroke="#111" stroke-width="0.08">c</text>
<text x="331.90" y="297.02" font-size="7.0" text-anchor="middle" font-weight="normal" fill="#111" stroke="#111" stroke-width="0.08">C</text>
<text x="353.30" y="300.90" font-size="7.0" text-anchor="middle" font-weight="normal" fill="#111" stroke="#111" stroke-width="0.08">c</text>
<text x="361.60" y="281.62" font-size="7.0" text-anchor="middle" font-weight="normal" fill="#111" stroke="#111" stroke-width="0.08">D</text>
<text x="382.60" y="291.52" font-size="7.0" text-anchor="middle" font-weight="normal" fill="#111" stroke="#111" stroke-width="0.08">d</text>
<text x="390.60" y="254.82" font-size="7.0" text-anchor="middle" font-weight="normal" fill="#111" stroke="#111" stroke-width="0.08">E</text>
<text x="411.60" y="283.92" font-size="7.0" text-anchor="middle" font-weight="normal" fill="#111" stroke="#111" stroke-width="0.08">d</text>
<text x="420.30" y="206.12" font-size="7.0" text-anchor="middle" font-weight="normal" fill="#111" stroke="#111" stroke-width="0.08">F</text>
<rect x="343.20" y="195.20" width="14.60" height="7.40" fill="#9ee7bf" stroke="rgba(0,0,0,0.6)" stroke-width="0.7"/>
<text x="351.30" y="208.69" font-size="6.0" text-anchor="middle" font-weight="normal" fill="#222" textLength="17.00" lengthAdjust="spacingAndGlyphs" stroke="#222" stroke-width="0.12" >GL1-E1</text>
<rect x="361.20" y="195.20" width="14.30" height="7.40" fill="#ab9eea" stroke="rgba(0,0,0,0.6)" stroke-width="0.7"/>
<text x="369.35" y="208.69" font-size="6.0" text-anchor="middle" font-weight="normal" fill="#222" textLength="17.70" lengthAdjust="spacingAndGlyphs" stroke="#222" stroke-width="0.12" >GL1-E2</text>
<rect x="378.90" y="195.20" width="14.40" height="7.40" fill="#f9afab" stroke="rgba(0,0,0,0.6)" stroke-width="0.7"/>
<text x="387.65" y="208.69" font-size="6.0" text-anchor="middle" font-weight="normal" fill="#222" textLength="9.30" lengthAdjust="spacingAndGlyphs" stroke="#222" stroke-width="0.12" >LPS</text>
<text x="268.30" y="332.85" font-size="6.2" text-anchor="middle" font-weight="normal" fill="#222" stroke="#222" stroke-width="0.2" >CK</text>
<text x="308.80" y="332.85" font-size="6.2" text-anchor="middle" font-weight="normal" fill="#222" stroke="#222" stroke-width="0.2" >LPS</text>
<text x="330.00" y="333.25" font-size="6.2" text-anchor="middle" font-weight="normal" fill="#222" stroke="#222" stroke-width="0.2" >50</text>
<text x="358.80" y="333.25" font-size="6.2" text-anchor="middle" font-weight="normal" fill="#222" stroke="#222" stroke-width="0.2" >100</text>
<text x="388.50" y="333.25" font-size="6.2" text-anchor="middle" font-weight="normal" fill="#222" stroke="#222" stroke-width="0.2" >200</text>
<text x="418.00" y="333.25" font-size="6.2" text-anchor="middle" font-weight="normal" fill="#222" stroke="#222" stroke-width="0.2" >400</text>
<line x1="318.75" y1="335.30" x2="426.25" y2="335.30" stroke="#777" stroke-width="0.8"/>
<text x="370.62" y="343.68" font-size="6.6" text-anchor="middle" font-weight="normal" fill="#222" textLength="58.75" lengthAdjust="spacingAndGlyphs" stroke="#222" stroke-width="0.1" >Concentration (&#956;g/mL)</text>
<text x="338.00" y="367.11" font-size="9.4" text-anchor="middle" font-weight="bold" fill="#111" >(d)</text>
<text x="246.60" y="264.95" font-size="6.8" text-anchor="middle" font-weight="normal" fill="#222" textLength="73.40" lengthAdjust="spacingAndGlyphs" stroke="#222" stroke-width="0.1" transform="rotate(-90 246.60 262.70)">Relative expression (TNF-a)</text>
<rect x="30.50" y="480.00" width="7.10" height="23.40" fill="#9ee7bf" stroke="rgba(0,0,0,0.5)" stroke-width="0.6"/>
<line x1="34.05" y1="476.00" x2="34.05" y2="484.00" stroke="#666" stroke-width="0.5"/>
<line x1="32.85" y1="476.00" x2="35.25" y2="476.00" stroke="#666" stroke-width="0.5"/>
<line x1="32.85" y1="484.00" x2="35.25" y2="484.00" stroke="#666" stroke-width="0.5"/>
<rect x="37.60" y="480.00" width="7.00" height="23.40" fill="#ab9eea" stroke="rgba(0,0,0,0.5)" stroke-width="0.6"/>
<line x1="41.10" y1="477.00" x2="41.10" y2="483.00" stroke="#666" stroke-width="0.5"/>
<line x1="39.90" y1="477.00" x2="42.30" y2="477.00" stroke="#666" stroke-width="0.5"/>
<line x1="39.90" y1="483.00" x2="42.30" y2="483.00" stroke="#666" stroke-width="0.5"/>
<rect x="71.75" y="409.30" width="7.25" height="94.10" fill="#f9afab" stroke="rgba(0,0,0,0.5)" stroke-width="0.6"/>
<line x1="75.38" y1="408.70" x2="75.38" y2="409.90" stroke="#666" stroke-width="0.5"/>
<line x1="74.17" y1="408.70" x2="76.58" y2="408.70" stroke="#666" stroke-width="0.5"/>
<line x1="74.17" y1="409.90" x2="76.58" y2="409.90" stroke="#666" stroke-width="0.5"/>
<rect x="83.75" y="482.00" width="7.50" height="21.40" fill="#9ee7bf" stroke="rgba(0,0,0,0.5)" stroke-width="0.6"/>
<line x1="87.50" y1="480.50" x2="87.50" y2="483.50" stroke="#666" stroke-width="0.5"/>
<line x1="86.30" y1="480.50" x2="88.70" y2="480.50" stroke="#666" stroke-width="0.5"/>
<line x1="86.30" y1="483.50" x2="88.70" y2="483.50" stroke="#666" stroke-width="0.5"/>
<rect x="91.25" y="484.50" width="7.50" height="18.90" fill="#ab9eea" stroke="rgba(0,0,0,0.5)" stroke-width="0.6"/>
<line x1="95.00" y1="481.50" x2="95.00" y2="487.50" stroke="#666" stroke-width="0.5"/>
<line x1="93.80" y1="481.50" x2="96.20" y2="481.50" stroke="#666" stroke-width="0.5"/>
<line x1="93.80" y1="487.50" x2="96.20" y2="487.50" stroke="#666" stroke-width="0.5"/>
<rect x="110.50" y="478.00" width="7.00" height="25.40" fill="#9ee7bf" stroke="rgba(0,0,0,0.5)" stroke-width="0.6"/>
<line x1="114.00" y1="472.00" x2="114.00" y2="484.00" stroke="#666" stroke-width="0.5"/>
<line x1="112.80" y1="472.00" x2="115.20" y2="472.00" stroke="#666" stroke-width="0.5"/>
<line x1="112.80" y1="484.00" x2="115.20" y2="484.00" stroke="#666" stroke-width="0.5"/>
<rect x="117.50" y="474.30" width="7.50" height="29.10" fill="#ab9eea" stroke="rgba(0,0,0,0.5)" stroke-width="0.6"/>
<line x1="121.25" y1="469.80" x2="121.25" y2="478.80" stroke="#666" stroke-width="0.5"/>
<line x1="120.05" y1="469.80" x2="122.45" y2="469.80" stroke="#666" stroke-width="0.5"/>
<line x1="120.05" y1="478.80" x2="122.45" y2="478.80" stroke="#666" stroke-width="0.5"/>
<rect x="137.50" y="440.50" width="7.00" height="62.90" fill="#9ee7bf" stroke="rgba(0,0,0,0.5)" stroke-width="0.6"/>
<line x1="141.00" y1="437.00" x2="141.00" y2="444.00" stroke="#666" stroke-width="0.5"/>
<line x1="139.80" y1="437.00" x2="142.20" y2="437.00" stroke="#666" stroke-width="0.5"/>
<line x1="139.80" y1="444.00" x2="142.20" y2="444.00" stroke="#666" stroke-width="0.5"/>
<rect x="144.50" y="472.50" width="7.50" height="30.90" fill="#ab9eea" stroke="rgba(0,0,0,0.5)" stroke-width="0.6"/>
<line x1="148.25" y1="467.50" x2="148.25" y2="477.50" stroke="#666" stroke-width="0.5"/>
<line x1="147.05" y1="467.50" x2="149.45" y2="467.50" stroke="#666" stroke-width="0.5"/>
<line x1="147.05" y1="477.50" x2="149.45" y2="477.50" stroke="#666" stroke-width="0.5"/>
<rect x="164.25" y="434.30" width="7.25" height="69.10" fill="#9ee7bf" stroke="rgba(0,0,0,0.5)" stroke-width="0.6"/>
<line x1="167.88" y1="429.30" x2="167.88" y2="439.30" stroke="#666" stroke-width="0.5"/>
<line x1="166.68" y1="429.30" x2="169.07" y2="429.30" stroke="#666" stroke-width="0.5"/>
<line x1="166.68" y1="439.30" x2="169.07" y2="439.30" stroke="#666" stroke-width="0.5"/>
<rect x="171.50" y="440.50" width="7.25" height="62.90" fill="#ab9eea" stroke="rgba(0,0,0,0.5)" stroke-width="0.6"/>
<line x1="175.12" y1="436.00" x2="175.12" y2="445.00" stroke="#666" stroke-width="0.5"/>
<line x1="173.93" y1="436.00" x2="176.32" y2="436.00" stroke="#666" stroke-width="0.5"/>
<line x1="173.93" y1="445.00" x2="176.32" y2="445.00" stroke="#666" stroke-width="0.5"/>
<line x1="28.40" y1="385.00" x2="28.40" y2="503.90" stroke="#6e6e6e" stroke-width="1.0"/>
<line x1="27.90" y1="503.40" x2="188.25" y2="503.40" stroke="#6e6e6e" stroke-width="1.0"/>
<line x1="28.40" y1="503.40" x2="30.40" y2="503.40" stroke="#6e6e6e" stroke-width="0.9"/>
<text x="25.00" y="504.75" font-size="5.0" text-anchor="end" font-weight="normal" fill="#2a2a2a" textLength="1.90" lengthAdjust="spacingAndGlyphs" stroke="#2a2a2a" stroke-width="0.08" >0</text>
<line x1="28.40" y1="479.82" x2="30.40" y2="479.82" stroke="#6e6e6e" stroke-width="0.9"/>
<text x="25.00" y="481.17" font-size="5.0" text-anchor="end" font-weight="normal" fill="#2a2a2a" textLength="1.90" lengthAdjust="spacingAndGlyphs" stroke="#2a2a2a" stroke-width="0.08" >1</text>
<line x1="28.40" y1="456.24" x2="30.40" y2="456.24" stroke="#6e6e6e" stroke-width="0.9"/>
<text x="25.00" y="457.59" font-size="5.0" text-anchor="end" font-weight="normal" fill="#2a2a2a" textLength="1.90" lengthAdjust="spacingAndGlyphs" stroke="#2a2a2a" stroke-width="0.08" >2</text>
<line x1="28.40" y1="432.66" x2="30.40" y2="432.66" stroke="#6e6e6e" stroke-width="0.9"/>
<text x="25.00" y="434.01" font-size="5.0" text-anchor="end" font-weight="normal" fill="#2a2a2a" textLength="1.90" lengthAdjust="spacingAndGlyphs" stroke="#2a2a2a" stroke-width="0.08" >3</text>
<line x1="28.40" y1="409.08" x2="30.40" y2="409.08" stroke="#6e6e6e" stroke-width="0.9"/>
<text x="25.00" y="410.43" font-size="5.0" text-anchor="end" font-weight="normal" fill="#2a2a2a" textLength="1.90" lengthAdjust="spacingAndGlyphs" stroke="#2a2a2a" stroke-width="0.08" >4</text>
<line x1="28.40" y1="385.50" x2="30.40" y2="385.50" stroke="#6e6e6e" stroke-width="0.9"/>
<text x="25.00" y="386.85" font-size="5.0" text-anchor="end" font-weight="normal" fill="#2a2a2a" textLength="1.90" lengthAdjust="spacingAndGlyphs" stroke="#2a2a2a" stroke-width="0.08" >5</text>
<text x="34.60" y="473.35" font-size="6.8" text-anchor="middle" font-weight="normal" fill="#111" stroke="#111" stroke-width="0.08">c</text>
<text x="42.60" y="474.55" font-size="6.8" text-anchor="middle" font-weight="normal" fill="#111" stroke="#111" stroke-width="0.08">CD</text>
<text x="75.90" y="402.65" font-size="6.8" text-anchor="middle" font-weight="normal" fill="#111" stroke="#111" stroke-width="0.08">a A</text>
<text x="87.90" y="479.15" font-size="6.8" text-anchor="middle" font-weight="normal" fill="#111" stroke="#111" stroke-width="0.08">c</text>
<text x="95.50" y="479.35" font-size="6.8" text-anchor="middle" font-weight="normal" fill="#111" stroke="#111" stroke-width="0.08">D</text>
<text x="114.50" y="470.25" font-size="6.8" text-anchor="middle" font-weight="normal" fill="#111" stroke="#111" stroke-width="0.08">c</text>
<text x="121.90" y="467.55" font-size="6.8" text-anchor="middle" font-weight="normal" fill="#111" stroke="#111" stroke-width="0.08">C</text>
<text x="141.50" y="434.05" font-size="6.8" text-anchor="middle" font-weight="normal" fill="#111" stroke="#111" stroke-width="0.08">b</text>
<text x="148.90" y="465.95" font-size="6.8" text-anchor="middle" font-weight="normal" fill="#111" stroke="#111" stroke-width="0.08">C</text>
<text x="168.30" y="425.75" font-size="6.8" text-anchor="middle" font-weight="normal" fill="#111" stroke="#111" stroke-width="0.08">b</text>
<text x="175.70" y="432.15" font-size="6.8" text-anchor="middle" font-weight="normal" fill="#111" stroke="#111" stroke-width="0.08">B</text>
<rect x="105.70" y="384.50" width="13.40" height="6.70" fill="#9ee7bf" stroke="rgba(0,0,0,0.6)" stroke-width="0.7"/>
<text x="113.00" y="397.12" font-size="5.2" text-anchor="middle" font-weight="normal" fill="#222" textLength="15.00" lengthAdjust="spacingAndGlyphs" stroke="#222" stroke-width="0.12" >GL1-E1</text>
<rect x="121.80" y="384.50" width="13.00" height="6.70" fill="#ab9eea" stroke="rgba(0,0,0,0.6)" stroke-width="0.7"/>
<text x="129.35" y="397.12" font-size="5.2" text-anchor="middle" font-weight="normal" fill="#222" textLength="15.50" lengthAdjust="spacingAndGlyphs" stroke="#222" stroke-width="0.12" >GL1-E2</text>
<rect x="137.80" y="384.50" width="13.10" height="6.70" fill="#f9afab" stroke="rgba(0,0,0,0.6)" stroke-width="0.7"/>
<text x="145.70" y="397.12" font-size="5.2" text-anchor="middle" font-weight="normal" fill="#222" textLength="8.20" lengthAdjust="spacingAndGlyphs" stroke="#222" stroke-width="0.12" >LPS</text>
<text x="37.50" y="510.05" font-size="5.3" text-anchor="middle" font-weight="normal" fill="#222" stroke="#222" stroke-width="0.2" >CK</text>
<text x="74.30" y="510.05" font-size="5.3" text-anchor="middle" font-weight="normal" fill="#222" stroke="#222" stroke-width="0.2" >LPS</text>
<text x="93.80" y="510.05" font-size="5.3" text-anchor="middle" font-weight="normal" fill="#222" stroke="#222" stroke-width="0.2" >50</text>
<text x="120.00" y="510.05" font-size="5.3" text-anchor="middle" font-weight="normal" fill="#222" stroke="#222" stroke-width="0.2" >100</text>
<text x="146.30" y="510.05" font-size="5.3" text-anchor="middle" font-weight="normal" fill="#222" stroke="#222" stroke-width="0.2" >200</text>
<text x="173.00" y="510.05" font-size="5.3" text-anchor="middle" font-weight="normal" fill="#222" stroke="#222" stroke-width="0.2" >400</text>
<line x1="82.50" y1="511.80" x2="180.50" y2="511.80" stroke="#777" stroke-width="0.8"/>
<text x="130.88" y="519.18" font-size="6.6" text-anchor="middle" font-weight="normal" fill="#222" textLength="54.25" lengthAdjust="spacingAndGlyphs" stroke="#222" stroke-width="0.1" >Concentration (&#956;g/mL)</text>
<text x="102.50" y="541.91" font-size="9.4" text-anchor="middle" font-weight="bold" fill="#111" >(e)</text>
<text x="19.90" y="446.62" font-size="6.4" text-anchor="middle" font-weight="normal" fill="#222" textLength="67.70" lengthAdjust="spacingAndGlyphs" stroke="#222" stroke-width="0.1" transform="rotate(-90 19.90 444.50)">Relative expression (IL-1&#946;)</text>
<rect x="266.75" y="485.80" width="7.75" height="15.50" fill="#9ee7bf" stroke="rgba(0,0,0,0.5)" stroke-width="0.6"/>
<line x1="270.62" y1="483.30" x2="270.62" y2="488.30" stroke="#666" stroke-width="0.5"/>
<line x1="269.43" y1="483.30" x2="271.82" y2="483.30" stroke="#666" stroke-width="0.5"/>
<line x1="269.43" y1="488.30" x2="271.82" y2="488.30" stroke="#666" stroke-width="0.5"/>
<rect x="274.50" y="485.80" width="7.50" height="15.50" fill="#ab9eea" stroke="rgba(0,0,0,0.5)" stroke-width="0.6"/>
<line x1="278.25" y1="483.30" x2="278.25" y2="488.30" stroke="#666" stroke-width="0.5"/>
<line x1="277.05" y1="483.30" x2="279.45" y2="483.30" stroke="#666" stroke-width="0.5"/>
<line x1="277.05" y1="488.30" x2="279.45" y2="488.30" stroke="#666" stroke-width="0.5"/>
<rect x="308.25" y="397.50" width="7.50" height="103.80" fill="#f9afab" stroke="rgba(0,0,0,0.5)" stroke-width="0.6"/>
<line x1="312.00" y1="396.90" x2="312.00" y2="398.10" stroke="#666" stroke-width="0.5"/>
<line x1="310.80" y1="396.90" x2="313.20" y2="396.90" stroke="#666" stroke-width="0.5"/>
<line x1="310.80" y1="398.10" x2="313.20" y2="398.10" stroke="#666" stroke-width="0.5"/>
<rect x="321.40" y="485.50" width="6.80" height="15.80" fill="#9ee7bf" stroke="rgba(0,0,0,0.5)" stroke-width="0.6"/>
<line x1="324.80" y1="484.00" x2="324.80" y2="487.00" stroke="#666" stroke-width="0.5"/>
<line x1="323.60" y1="484.00" x2="326.00" y2="484.00" stroke="#666" stroke-width="0.5"/>
<line x1="323.60" y1="487.00" x2="326.00" y2="487.00" stroke="#666" stroke-width="0.5"/>
<rect x="328.20" y="483.30" width="7.30" height="18.00" fill="#ab9eea" stroke="rgba(0,0,0,0.5)" stroke-width="0.6"/>
<line x1="331.85" y1="482.30" x2="331.85" y2="484.30" stroke="#666" stroke-width="0.5"/>
<line x1="330.65" y1="482.30" x2="333.05" y2="482.30" stroke="#666" stroke-width="0.5"/>
<line x1="330.65" y1="484.30" x2="333.05" y2="484.30" stroke="#666" stroke-width="0.5"/>
<rect x="347.30" y="481.40" width="7.30" height="19.90" fill="#9ee7bf" stroke="rgba(0,0,0,0.5)" stroke-width="0.6"/>
<line x1="350.95" y1="476.90" x2="350.95" y2="485.90" stroke="#666" stroke-width="0.5"/>
<line x1="349.75" y1="476.90" x2="352.15" y2="476.90" stroke="#666" stroke-width="0.5"/>
<line x1="349.75" y1="485.90" x2="352.15" y2="485.90" stroke="#666" stroke-width="0.5"/>
<rect x="354.60" y="466.40" width="7.10" height="34.90" fill="#ab9eea" stroke="rgba(0,0,0,0.5)" stroke-width="0.6"/>
<line x1="358.15" y1="465.80" x2="358.15" y2="467.00" stroke="#666" stroke-width="0.5"/>
<line x1="356.95" y1="465.80" x2="359.35" y2="465.80" stroke="#666" stroke-width="0.5"/>
<line x1="356.95" y1="467.00" x2="359.35" y2="467.00" stroke="#666" stroke-width="0.5"/>
<rect x="373.70" y="479.20" width="7.10" height="22.10" fill="#9ee7bf" stroke="rgba(0,0,0,0.5)" stroke-width="0.6"/>
<line x1="377.25" y1="475.20" x2="377.25" y2="483.20" stroke="#666" stroke-width="0.5"/>
<line x1="376.05" y1="475.20" x2="378.45" y2="475.20" stroke="#666" stroke-width="0.5"/>
<line x1="376.05" y1="483.20" x2="378.45" y2="483.20" stroke="#666" stroke-width="0.5"/>
<rect x="380.80" y="459.50" width="7.40" height="41.80" fill="#ab9eea" stroke="rgba(0,0,0,0.5)" stroke-width="0.6"/>
<line x1="384.50" y1="458.90" x2="384.50" y2="460.10" stroke="#666" stroke-width="0.5"/>
<line x1="383.30" y1="458.90" x2="385.70" y2="458.90" stroke="#666" stroke-width="0.5"/>
<line x1="383.30" y1="460.10" x2="385.70" y2="460.10" stroke="#666" stroke-width="0.5"/>
<rect x="399.90" y="483.30" width="7.40" height="18.00" fill="#9ee7bf" stroke="rgba(0,0,0,0.5)" stroke-width="0.6"/>
<line x1="403.60" y1="481.30" x2="403.60" y2="485.30" stroke="#666" stroke-width="0.5"/>
<line x1="402.40" y1="481.30" x2="404.80" y2="481.30" stroke="#666" stroke-width="0.5"/>
<line x1="402.40" y1="485.30" x2="404.80" y2="485.30" stroke="#666" stroke-width="0.5"/>
<rect x="407.30" y="436.80" width="7.45" height="64.50" fill="#ab9eea" stroke="rgba(0,0,0,0.5)" stroke-width="0.6"/>
<line x1="411.02" y1="436.20" x2="411.02" y2="437.40" stroke="#666" stroke-width="0.5"/>
<line x1="409.82" y1="436.20" x2="412.22" y2="436.20" stroke="#666" stroke-width="0.5"/>
<line x1="409.82" y1="437.40" x2="412.22" y2="437.40" stroke="#666" stroke-width="0.5"/>
<line x1="265.30" y1="384.10" x2="265.30" y2="501.80" stroke="#6e6e6e" stroke-width="1.0"/>
<line x1="264.80" y1="501.30" x2="424.40" y2="501.30" stroke="#6e6e6e" stroke-width="1.0"/>
<line x1="265.30" y1="501.30" x2="267.30" y2="501.30" stroke="#6e6e6e" stroke-width="0.9"/>
<text x="262.30" y="502.62" font-size="4.9" text-anchor="end" font-weight="normal" fill="#2a2a2a" textLength="2.00" lengthAdjust="spacingAndGlyphs" stroke="#2a2a2a" stroke-width="0.08" >0</text>
<line x1="265.30" y1="485.75" x2="267.30" y2="485.75" stroke="#6e6e6e" stroke-width="0.9"/>
<text x="262.30" y="487.07" font-size="4.9" text-anchor="end" font-weight="normal" fill="#2a2a2a" textLength="2.00" lengthAdjust="spacingAndGlyphs" stroke="#2a2a2a" stroke-width="0.08" >1</text>
<line x1="265.30" y1="470.20" x2="267.30" y2="470.20" stroke="#6e6e6e" stroke-width="0.9"/>
<text x="262.30" y="471.52" font-size="4.9" text-anchor="end" font-weight="normal" fill="#2a2a2a" textLength="2.00" lengthAdjust="spacingAndGlyphs" stroke="#2a2a2a" stroke-width="0.08" >2</text>
<line x1="265.30" y1="454.65" x2="267.30" y2="454.65" stroke="#6e6e6e" stroke-width="0.9"/>
<text x="262.30" y="455.97" font-size="4.9" text-anchor="end" font-weight="normal" fill="#2a2a2a" textLength="2.00" lengthAdjust="spacingAndGlyphs" stroke="#2a2a2a" stroke-width="0.08" >3</text>
<line x1="265.30" y1="439.10" x2="267.30" y2="439.10" stroke="#6e6e6e" stroke-width="0.9"/>
<text x="262.30" y="440.42" font-size="4.9" text-anchor="end" font-weight="normal" fill="#2a2a2a" textLength="2.00" lengthAdjust="spacingAndGlyphs" stroke="#2a2a2a" stroke-width="0.08" >4</text>
<line x1="265.30" y1="423.55" x2="267.30" y2="423.55" stroke="#6e6e6e" stroke-width="0.9"/>
<text x="262.30" y="424.87" font-size="4.9" text-anchor="end" font-weight="normal" fill="#2a2a2a" textLength="2.00" lengthAdjust="spacingAndGlyphs" stroke="#2a2a2a" stroke-width="0.08" >5</text>
<line x1="265.30" y1="408.00" x2="267.30" y2="408.00" stroke="#6e6e6e" stroke-width="0.9"/>
<text x="262.30" y="409.32" font-size="4.9" text-anchor="end" font-weight="normal" fill="#2a2a2a" textLength="2.00" lengthAdjust="spacingAndGlyphs" stroke="#2a2a2a" stroke-width="0.08" >6</text>
<line x1="265.30" y1="392.45" x2="267.30" y2="392.45" stroke="#6e6e6e" stroke-width="0.9"/>
<text x="262.30" y="393.77" font-size="4.9" text-anchor="end" font-weight="normal" fill="#2a2a2a" textLength="2.00" lengthAdjust="spacingAndGlyphs" stroke="#2a2a2a" stroke-width="0.08" >7</text>
<text x="271.60" y="480.76" font-size="6.4" text-anchor="middle" font-weight="normal" fill="#1a1a1a" stroke="#1a1a1a" stroke-width="0.08">c</text>
<text x="279.10" y="480.72" font-size="6.4" text-anchor="middle" font-weight="normal" fill="#1a1a1a" stroke="#1a1a1a" stroke-width="0.08">E</text>
<text x="312.80" y="393.22" font-size="6.4" text-anchor="middle" font-weight="normal" fill="#1a1a1a" stroke="#1a1a1a" stroke-width="0.08">a A</text>
<text x="324.40" y="479.86" font-size="6.4" text-anchor="middle" font-weight="normal" fill="#1a1a1a" stroke="#1a1a1a" stroke-width="0.08">c</text>
<text x="332.30" y="479.02" font-size="6.4" text-anchor="middle" font-weight="normal" fill="#1a1a1a" stroke="#1a1a1a" stroke-width="0.08">E</text>
<text x="350.90" y="474.92" font-size="6.4" text-anchor="middle" font-weight="normal" fill="#1a1a1a" stroke="#1a1a1a" stroke-width="0.08">bc</text>
<text x="359.00" y="464.22" font-size="6.4" text-anchor="middle" font-weight="normal" fill="#1a1a1a" stroke="#1a1a1a" stroke-width="0.08">D</text>
<text x="377.40" y="473.77" font-size="6.4" text-anchor="middle" font-weight="normal" fill="#1a1a1a" stroke="#1a1a1a" stroke-width="0.08">b</text>
<text x="384.80" y="455.72" font-size="6.4" text-anchor="middle" font-weight="normal" fill="#1a1a1a" stroke="#1a1a1a" stroke-width="0.08">C</text>
<text x="404.00" y="479.02" font-size="6.4" text-anchor="middle" font-weight="normal" fill="#1a1a1a" stroke="#1a1a1a" stroke-width="0.08">bc</text>
<text x="411.80" y="430.12" font-size="6.4" text-anchor="middle" font-weight="normal" fill="#1a1a1a" stroke="#1a1a1a" stroke-width="0.08">B</text>
<rect x="338.80" y="387.10" width="12.90" height="6.50" fill="#9ee7bf" stroke="rgba(0,0,0,0.6)" stroke-width="0.7"/>
<text x="346.10" y="399.49" font-size="4.8" text-anchor="middle" font-weight="normal" fill="#222" textLength="15.40" lengthAdjust="spacingAndGlyphs" stroke="#222" stroke-width="0.12" >GL1-E1</text>
<rect x="354.20" y="387.10" width="13.00" height="6.50" fill="#ab9eea" stroke="rgba(0,0,0,0.6)" stroke-width="0.7"/>
<text x="361.70" y="399.49" font-size="4.8" text-anchor="middle" font-weight="normal" fill="#222" textLength="15.00" lengthAdjust="spacingAndGlyphs" stroke="#222" stroke-width="0.12" >GL1-E2</text>
<rect x="370.20" y="387.10" width="13.20" height="6.50" fill="#f9afab" stroke="rgba(0,0,0,0.6)" stroke-width="0.7"/>
<text x="378.55" y="399.49" font-size="4.8" text-anchor="middle" font-weight="normal" fill="#222" textLength="7.70" lengthAdjust="spacingAndGlyphs" stroke="#222" stroke-width="0.12" >LPS</text>
<text x="274.50" y="507.72" font-size="5.2" text-anchor="middle" font-weight="normal" fill="#333" stroke="#333" stroke-width="0.1" >CK</text>
<text x="311.30" y="507.72" font-size="5.2" text-anchor="middle" font-weight="normal" fill="#333" stroke="#333" stroke-width="0.1" >LPS</text>
<text x="330.00" y="508.12" font-size="5.2" text-anchor="middle" font-weight="normal" fill="#333" stroke="#333" stroke-width="0.1" >50</text>
<text x="356.30" y="508.12" font-size="5.2" text-anchor="middle" font-weight="normal" fill="#333" stroke="#333" stroke-width="0.1" >100</text>
<text x="382.20" y="508.12" font-size="5.2" text-anchor="middle" font-weight="normal" fill="#333" stroke="#333" stroke-width="0.1" >200</text>
<text x="409.40" y="508.12" font-size="5.2" text-anchor="middle" font-weight="normal" fill="#333" stroke="#333" stroke-width="0.1" >400</text>
<line x1="320.00" y1="510.00" x2="416.80" y2="510.00" stroke="#777" stroke-width="0.8"/>
<text x="367.05" y="517.68" font-size="6.6" text-anchor="middle" font-weight="normal" fill="#222" textLength="53.10" lengthAdjust="spacingAndGlyphs" stroke="#222" stroke-width="0.1" >Concentration (&#956;g/mL)</text>
<text x="338.00" y="542.01" font-size="9.4" text-anchor="middle" font-weight="bold" fill="#111" >(f)</text>
<text x="255.70" y="451.19" font-size="6.0" text-anchor="middle" font-weight="normal" fill="#222" textLength="55.70" lengthAdjust="spacingAndGlyphs" stroke="#222" stroke-width="0.1" transform="rotate(-90 255.70 449.20)">Relative expression (iNOS)</text>
</g>
</svg>
</div>
<div id="b"><svg width="440" height="550" viewBox="0 0 440 550"><rect x="0" y="0" width="440" height="550" fill="#ffffff"/><rect x="0" y="0" width="211" height="166" fill="#fafafa"/>
<rect x="229" y="0" width="211" height="166" fill="#fafafa"/>
<rect x="0" y="181" width="211" height="175" fill="#fafafa"/>
<rect x="230" y="181" width="210" height="175" fill="#fafafa"/>
<rect x="4.5" y="371.5" width="200.5" height="159.5" fill="#fafafa"/>
<rect x="240" y="374.5" width="197" height="156.5" fill="#fafafa"/>
<rect x="25.20" y="53.50" width="8.20" height="81.10" fill="#9ee7bf" stroke="rgba(0,0,0,0.5)" stroke-width="0.6"/>
<line x1="29.30" y1="51.00" x2="29.30" y2="56.00" stroke="#666" stroke-width="0.5"/>
<line x1="28.10" y1="51.00" x2="30.50" y2="51.00" stroke="#666" stroke-width="0.5"/>
<line x1="28.10" y1="56.00" x2="30.50" y2="56.00" stroke="#666" stroke-width="0.5"/>
<rect x="33.40" y="53.50" width="7.90" height="81.10" fill="#ab9eea" stroke="rgba(0,0,0,0.5)" stroke-width="0.6"/>
<line x1="37.35" y1="51.00" x2="37.35" y2="56.00" stroke="#666" stroke-width="0.5"/>
<line x1="36.15" y1="51.00" x2="38.55" y2="51.00" stroke="#666" stroke-width="0.5"/>
<line x1="36.15" y1="56.00" x2="38.55" y2="56.00" stroke="#666" stroke-width="0.5"/>
<rect x="71.25" y="36.90" width="7.50" height="97.70" fill="#f9afab" stroke="rgba(0,0,0,0.5)" stroke-width="0.6"/>
<line x1="75.00" y1="33.90" x2="75.00" y2="39.90" stroke="#666" stroke-width="0.5"/>
<line x1="73.80" y1="33.90" x2="76.20" y2="33.90" stroke="#666" stroke-width="0.5"/>
<line x1="73.80" y1="39.90" x2="76.20" y2="39.90" stroke="#666" stroke-width="0.5"/>
<rect x="84.50" y="45.70" width="8.00" height="88.90" fill="#9ee7bf" stroke="rgba(0,0,0,0.5)" stroke-width="0.6"/>
<line x1="88.50" y1="45.10" x2="88.50" y2="46.30" stroke="#666" stroke-width="0.5"/>
<line x1="87.30" y1="45.10" x2="89.70" y2="45.10" stroke="#666" stroke-width="0.5"/>
<line x1="87.30" y1="46.30" x2="89.70" y2="46.30" stroke="#666" stroke-width="0.5"/>
<rect x="92.50" y="50.50" width="8.00" height="84.10" fill="#ab9eea" stroke="rgba(0,0,0,0.5)" stroke-width="0.6"/>
<line x1="96.50" y1="47.50" x2="96.50" y2="53.50" stroke="#666" stroke-width="0.5"/>
<line x1="95.30" y1="47.50" x2="97.70" y2="47.50" stroke="#666" stroke-width="0.5"/>
<line x1="95.30" y1="53.50" x2="97.70" y2="53.50" stroke="#666" stroke-width="0.5"/>
<rect x="114.25" y="50.70" width="7.50" height="83.90" fill="#9ee7bf" stroke="rgba(0,0,0,0.5)" stroke-width="0.6"/>
<line x1="118.00" y1="48.20" x2="118.00" y2="53.20" stroke="#666" stroke-width="0.5"/>
<line x1="116.80" y1="48.20" x2="119.20" y2="48.20" stroke="#666" stroke-width="0.5"/>
<line x1="116.80" y1="53.20" x2="119.20" y2="53.20" stroke="#666" stroke-width="0.5"/>
<rect x="121.75" y="49.30" width="7.75" height="85.30" fill="#ab9eea" stroke="rgba(0,0,0,0.5)" stroke-width="0.6"/>
<line x1="125.62" y1="42.80" x2="125.62" y2="55.80" stroke="#666" stroke-width="0.5"/>
<line x1="124.42" y1="42.80" x2="126.83" y2="42.80" stroke="#666" stroke-width="0.5"/>
<line x1="124.42" y1="55.80" x2="126.83" y2="55.80" stroke="#666" stroke-width="0.5"/>
<rect x="143.75" y="41.60" width="7.50" height="93.00" fill="#9ee7bf" stroke="rgba(0,0,0,0.5)" stroke-width="0.6"/>
<line x1="147.50" y1="39.10" x2="147.50" y2="44.10" stroke="#666" stroke-width="0.5"/>
<line x1="146.30" y1="39.10" x2="148.70" y2="39.10" stroke="#666" stroke-width="0.5"/>
<line x1="146.30" y1="44.10" x2="148.70" y2="44.10" stroke="#666" stroke-width="0.5"/>
<rect x="151.25" y="47.00" width="8.00" height="87.60" fill="#ab9eea" stroke="rgba(0,0,0,0.5)" stroke-width="0.6"/>
<line x1="155.25" y1="46.40" x2="155.25" y2="47.60" stroke="#666" stroke-width="0.5"/>
<line x1="154.05" y1="46.40" x2="156.45" y2="46.40" stroke="#666" stroke-width="0.5"/>
<line x1="154.05" y1="47.60" x2="156.45" y2="47.60" stroke="#666" stroke-width="0.5"/>
<rect x="173.25" y="51.50" width="8.00" height="83.10" fill="#9ee7bf" stroke="rgba(0,0,0,0.5)" stroke-width="0.6"/>
<line x1="177.25" y1="50.30" x2="177.25" y2="52.70" stroke="#666" stroke-width="0.5"/>
<line x1="176.05" y1="50.30" x2="178.45" y2="50.30" stroke="#666" stroke-width="0.5"/>
<line x1="176.05" y1="52.70" x2="178.45" y2="52.70" stroke="#666" stroke-width="0.5"/>
<rect x="181.25" y="43.00" width="7.75" height="91.60" fill="#ab9eea" stroke="rgba(0,0,0,0.5)" stroke-width="0.6"/>
<line x1="185.12" y1="39.50" x2="185.12" y2="46.50" stroke="#666" stroke-width="0.5"/>
<line x1="183.93" y1="39.50" x2="186.32" y2="39.50" stroke="#666" stroke-width="0.5"/>
<line x1="183.93" y1="46.50" x2="186.32" y2="46.50" stroke="#666" stroke-width="0.5"/>
<line x1="22.50" y1="4.50" x2="22.50" y2="135.10" stroke="#6e6e6e" stroke-width="1.0"/>
<line x1="22.00" y1="134.60" x2="199.50" y2="134.60" stroke="#6e6e6e" stroke-width="1.0"/>
<line x1="22.50" y1="134.60" x2="24.50" y2="134.60" stroke="#6e6e6e" stroke-width="0.9"/>
<text x="19.60" y="136.15" font-size="5.6" text-anchor="end" font-weight="normal" fill="#2a2a2a" textLength="2.15" lengthAdjust="spacingAndGlyphs" stroke="#2a2a2a" stroke-width="0.08" >0</text>
<line x1="22.50" y1="118.40" x2="24.50" y2="118.40" stroke="#6e6e6e" stroke-width="0.9"/>
<text x="19.60" y="119.95" font-size="5.6" text-anchor="end" font-weight="normal" fill="#2a2a2a" textLength="4.30" lengthAdjust="spacingAndGlyphs" stroke="#2a2a2a" stroke-width="0.08" >20</text>
<line x1="22.50" y1="102.20" x2="24.50" y2="102.20" stroke="#6e6e6e" stroke-width="0.9"/>
<text x="19.60" y="103.75" font-size="5.6" text-anchor="end" font-weight="normal" fill="#2a2a2a" textLength="4.30" lengthAdjust="spacingAndGlyphs" stroke="#2a2a2a" stroke-width="0.08" >40</text>
<line x1="22.50" y1="86.00" x2="24.50" y2="86.00" stroke="#6e6e6e" stroke-width="0.9"/>
<text x="19.60" y="87.55" font-size="5.6" text-anchor="end" font-weight="normal" fill="#2a2a2a" textLength="4.30" lengthAdjust="spacingAndGlyphs" stroke="#2a2a2a" stroke-width="0.08" >60</text>
<line x1="22.50" y1="69.80" x2="24.50" y2="69.80" stroke="#6e6e6e" stroke-width="0.9"/>
<text x="19.60" y="71.35" font-size="5.6" text-anchor="end" font-weight="normal" fill="#2a2a2a" textLength="4.30" lengthAdjust="spacingAndGlyphs" stroke="#2a2a2a" stroke-width="0.08" >80</text>
<line x1="22.50" y1="53.60" x2="24.50" y2="53.60" stroke="#6e6e6e" stroke-width="0.9"/>
<text x="19.60" y="55.15" font-size="5.6" text-anchor="end" font-weight="normal" fill="#2a2a2a" textLength="6.45" lengthAdjust="spacingAndGlyphs" stroke="#2a2a2a" stroke-width="0.08" >100</text>
<line x1="22.50" y1="37.40" x2="24.50" y2="37.40" stroke="#6e6e6e" stroke-width="0.9"/>
<text x="19.60" y="38.95" font-size="5.6" text-anchor="end" font-weight="normal" fill="#2a2a2a" textLength="6.45" lengthAdjust="spacingAndGlyphs" stroke="#2a2a2a" stroke-width="0.08" >120</text>
<line x1="22.50" y1="21.20" x2="24.50" y2="21.20" stroke="#6e6e6e" stroke-width="0.9"/>
<text x="19.60" y="22.75" font-size="5.6" text-anchor="end" font-weight="normal" fill="#2a2a2a" textLength="6.45" lengthAdjust="spacingAndGlyphs" stroke="#2a2a2a" stroke-width="0.08" >140</text>
<line x1="22.50" y1="5.00" x2="24.50" y2="5.00" stroke="#6e6e6e" stroke-width="0.9"/>
<text x="19.60" y="6.55" font-size="5.6" text-anchor="end" font-weight="normal" fill="#2a2a2a" textLength="6.45" lengthAdjust="spacingAndGlyphs" stroke="#2a2a2a" stroke-width="0.08" >160</text>
<text x="29.60" y="48.74" font-size="7.2" text-anchor="middle" font-weight="normal" fill="#000" stroke="#000" stroke-width="0.08">c</text>
<text x="38.10" y="49.18" font-size="7.2" text-anchor="middle" font-weight="normal" fill="#000" stroke="#000" stroke-width="0.08">C</text>
<text x="74.80" y="31.58" font-size="7.2" text-anchor="middle" font-weight="normal" fill="#000" stroke="#000" stroke-width="0.08">a A</text>
<text x="88.30" y="42.58" font-size="7.2" text-anchor="middle" font-weight="normal" fill="#000" stroke="#000" stroke-width="0.08">b</text>
<text x="97.10" y="46.08" font-size="7.2" text-anchor="middle" font-weight="normal" fill="#000" stroke="#000" stroke-width="0.08">C</text>
<text x="118.80" y="43.94" font-size="7.2" text-anchor="middle" font-weight="normal" fill="#000" stroke="#000" stroke-width="0.08">c</text>
<text x="127.80" y="40.98" font-size="7.2" text-anchor="middle" font-weight="normal" fill="#000" stroke="#000" stroke-width="0.08">BC</text>
<text x="147.80" y="38.18" font-size="7.2" text-anchor="middle" font-weight="normal" fill="#000" stroke="#000" stroke-width="0.08">b</text>
<text x="156.80" y="44.78" font-size="7.2" text-anchor="middle" font-weight="normal" fill="#000" stroke="#000" stroke-width="0.08">BC</text>
<text x="177.50" y="47.74" font-size="7.2" text-anchor="middle" font-weight="normal" fill="#000" stroke="#000" stroke-width="0.08">c</text>
<text x="185.50" y="38.48" font-size="7.2" text-anchor="middle" font-weight="normal" fill="#000" stroke="#000" stroke-width="0.08">B</text>
<rect x="108.10" y="5.30" width="14.60" height="7.20" fill="#9ee7bf" stroke="rgba(0,0,0,0.6)" stroke-width="0.7"/>
<text x="116.15" y="21.79" font-size="6.0" text-anchor="middle" font-weight="normal" fill="#222" textLength="16.70" lengthAdjust="spacingAndGlyphs" stroke="#222" stroke-width="0.12" >GL1-E1</text>
<rect x="125.80" y="5.30" width="14.40" height="7.20" fill="#ab9eea" stroke="rgba(0,0,0,0.6)" stroke-width="0.7"/>
<text x="134.15" y="21.79" font-size="6.0" text-anchor="middle" font-weight="normal" fill="#222" textLength="17.50" lengthAdjust="spacingAndGlyphs" stroke="#222" stroke-width="0.12" >GL1-E2</text>
<rect x="143.60" y="5.30" width="14.00" height="7.20" fill="#f9afab" stroke="rgba(0,0,0,0.6)" stroke-width="0.7"/>
<text x="152.30" y="21.79" font-size="6.0" text-anchor="middle" font-weight="normal" fill="#222" textLength="9.20" lengthAdjust="spacingAndGlyphs" stroke="#222" stroke-width="0.12" >LPS</text>
<text x="33.30" y="141.85" font-size="6.2" text-anchor="middle" font-weight="normal" fill="#222" stroke="#222" stroke-width="0.2" >CK</text>
<text x="73.80" y="141.85" font-size="6.2" text-anchor="middle" font-weight="normal" fill="#222" stroke="#222" stroke-width="0.2" >LPS</text>
<text x="95.00" y="142.25" font-size="6.2" text-anchor="middle" font-weight="normal" fill="#222" stroke="#222" stroke-width="0.2" >50</text>
<text x="123.80" y="142.25" font-size="6.2" text-anchor="middle" font-weight="normal" fill="#222" stroke="#222" stroke-width="0.2" >100</text>
<text x="152.50" y="142.25" font-size="6.2" text-anchor="middle" font-weight="normal" fill="#222" stroke="#222" stroke-width="0.2" >200</text>
<text x="182.50" y="142.25" font-size="6.2" text-anchor="middle" font-weight="normal" fill="#222" stroke="#222" stroke-width="0.2" >400</text>
<line x1="83.75" y1="144.40" x2="191.25" y2="144.40" stroke="#777" stroke-width="0.8"/>
<text x="135.90" y="152.38" font-size="6.6" text-anchor="middle" font-weight="normal" fill="#222" textLength="59.80" lengthAdjust="spacingAndGlyphs" stroke="#222" stroke-width="0.1" >Concentration (&#956;g/mL)</text>
<text x="102.00" y="176.61" font-size="9.4" text-anchor="middle" font-weight="bold" fill="#111" >(a)</text>
<text x="9.60" y="73.65" font-size="6.8" text-anchor="middle" font-weight="normal" fill="#222" textLength="49.50" lengthAdjust="spacingAndGlyphs" stroke="#222" stroke-width="0.1" transform="rotate(-90 9.60 71.40)">Cell viability  ( % )</text>
<rect x="260.75" y="70.00" width="8.00" height="64.50" fill="#9ee7bf" stroke="rgba(0,0,0,0.5)" stroke-width="0.6"/>
<line x1="264.75" y1="69.40" x2="264.75" y2="70.60" stroke="#666" stroke-width="0.5"/>
<line x1="263.55" y1="69.40" x2="265.95" y2="69.40" stroke="#666" stroke-width="0.5"/>
<line x1="263.55" y1="70.60" x2="265.95" y2="70.60" stroke="#666" stroke-width="0.5"/>
<rect x="268.75" y="70.00" width="8.00" height="64.50" fill="#ab9eea" stroke="rgba(0,0,0,0.5)" stroke-width="0.6"/>
<line x1="272.75" y1="69.40" x2="272.75" y2="70.60" stroke="#666" stroke-width="0.5"/>
<line x1="271.55" y1="69.40" x2="273.95" y2="69.40" stroke="#666" stroke-width="0.5"/>
<line x1="271.55" y1="70.60" x2="273.95" y2="70.60" stroke="#666" stroke-width="0.5"/>
<rect x="306.25" y="16.50" width="8.00" height="118.00" fill="#f9afab" stroke="rgba(0,0,0,0.5)" stroke-width="0.6"/>
<line x1="310.25" y1="15.30" x2="310.25" y2="17.70" stroke="#666" stroke-width="0.5"/>
<line x1="309.05" y1="15.30" x2="311.45" y2="15.30" stroke="#666" stroke-width="0.5"/>
<line x1="309.05" y1="17.70" x2="311.45" y2="17.70" stroke="#666" stroke-width="0.5"/>
<rect x="320.00" y="60.50" width="8.00" height="74.00" fill="#9ee7bf" stroke="rgba(0,0,0,0.5)" stroke-width="0.6"/>
<line x1="324.00" y1="56.50" x2="324.00" y2="64.50" stroke="#666" stroke-width="0.5"/>
<line x1="322.80" y1="56.50" x2="325.20" y2="56.50" stroke="#666" stroke-width="0.5"/>
<line x1="322.80" y1="64.50" x2="325.20" y2="64.50" stroke="#666" stroke-width="0.5"/>
<rect x="328.00" y="48.30" width="7.75" height="86.20" fill="#ab9eea" stroke="rgba(0,0,0,0.5)" stroke-width="0.6"/>
<line x1="331.88" y1="45.80" x2="331.88" y2="50.80" stroke="#666" stroke-width="0.5"/>
<line x1="330.68" y1="45.80" x2="333.07" y2="45.80" stroke="#666" stroke-width="0.5"/>
<line x1="330.68" y1="50.80" x2="333.07" y2="50.80" stroke="#666" stroke-width="0.5"/>
<rect x="349.25" y="53.30" width="8.25" height="81.20" fill="#9ee7bf" stroke="rgba(0,0,0,0.5)" stroke-width="0.6"/>
<line x1="353.38" y1="50.80" x2="353.38" y2="55.80" stroke="#666" stroke-width="0.5"/>
<line x1="352.18" y1="50.80" x2="354.57" y2="50.80" stroke="#666" stroke-width="0.5"/>
<line x1="352.18" y1="55.80" x2="354.57" y2="55.80" stroke="#666" stroke-width="0.5"/>
<rect x="357.50" y="48.50" width="8.00" height="86.00" fill="#ab9eea" stroke="rgba(0,0,0,0.5)" stroke-width="0.6"/>
<line x1="361.50" y1="46.00" x2="361.50" y2="51.00" stroke="#666" stroke-width="0.5"/>
<line x1="360.30" y1="46.00" x2="362.70" y2="46.00" stroke="#666" stroke-width="0.5"/>
<line x1="360.30" y1="51.00" x2="362.70" y2="51.00" stroke="#666" stroke-width="0.5"/>
<rect x="378.75" y="52.80" width="8.00" height="81.70" fill="#9ee7bf" stroke="rgba(0,0,0,0.5)" stroke-width="0.6"/>
<line x1="382.75" y1="49.30" x2="382.75" y2="56.30" stroke="#666" stroke-width="0.5"/>
<line x1="381.55" y1="49.30" x2="383.95" y2="49.30" stroke="#666" stroke-width="0.5"/>
<line x1="381.55" y1="56.30" x2="383.95" y2="56.30" stroke="#666" stroke-width="0.5"/>
<rect x="386.75" y="41.00" width="7.75" height="93.50" fill="#ab9eea" stroke="rgba(0,0,0,0.5)" stroke-width="0.6"/>
<line x1="390.62" y1="40.40" x2="390.62" y2="41.60" stroke="#666" stroke-width="0.5"/>
<line x1="389.43" y1="40.40" x2="391.82" y2="40.40" stroke="#666" stroke-width="0.5"/>
<line x1="389.43" y1="41.60" x2="391.82" y2="41.60" stroke="#666" stroke-width="0.5"/>
<rect x="408.25" y="45.50" width="8.00" height="89.00" fill="#9ee7bf" stroke="rgba(0,0,0,0.5)" stroke-width="0.6"/>
<line x1="412.25" y1="44.90" x2="412.25" y2="46.10" stroke="#666" stroke-width="0.5"/>
<line x1="411.05" y1="44.90" x2="413.45" y2="44.90" stroke="#666" stroke-width="0.5"/>
<line x1="411.05" y1="46.10" x2="413.45" y2="46.10" stroke="#666" stroke-width="0.5"/>
<rect x="416.25" y="37.00" width="8.00" height="97.50" fill="#ab9eea" stroke="rgba(0,0,0,0.5)" stroke-width="0.6"/>
<line x1="420.25" y1="35.70" x2="420.25" y2="38.30" stroke="#666" stroke-width="0.5"/>
<line x1="419.05" y1="35.70" x2="421.45" y2="35.70" stroke="#666" stroke-width="0.5"/>
<line x1="419.05" y1="38.30" x2="421.45" y2="38.30" stroke="#666" stroke-width="0.5"/>
<line x1="258.50" y1="4.00" x2="258.50" y2="135.00" stroke="#6e6e6e" stroke-width="1.0"/>
<line x1="258.00" y1="134.50" x2="434.50" y2="134.50" stroke="#6e6e6e" stroke-width="1.0"/>
<line x1="258.50" y1="134.50" x2="260.50" y2="134.50" stroke="#6e6e6e" stroke-width="0.9"/>
<text x="255.40" y="135.99" font-size="5.4" text-anchor="end" font-weight="normal" fill="#2a2a2a" textLength="6.00" lengthAdjust="spacingAndGlyphs" stroke="#2a2a2a" stroke-width="0.08" >0.0</text>
<line x1="258.50" y1="102.00" x2="260.50" y2="102.00" stroke="#6e6e6e" stroke-width="0.9"/>
<text x="255.40" y="103.49" font-size="5.4" text-anchor="end" font-weight="normal" fill="#2a2a2a" textLength="6.00" lengthAdjust="spacingAndGlyphs" stroke="#2a2a2a" stroke-width="0.08" >0.5</text>
<line x1="258.50" y1="69.50" x2="260.50" y2="69.50" stroke="#6e6e6e" stroke-width="0.9"/>
<text x="255.40" y="70.99" font-size="5.4" text-anchor="end" font-weight="normal" fill="#2a2a2a" textLength="6.00" lengthAdjust="spacingAndGlyphs" stroke="#2a2a2a" stroke-width="0.08" >1.0</text>
<line x1="258.50" y1="37.00" x2="260.50" y2="37.00" stroke="#6e6e6e" stroke-width="0.9"/>
<text x="255.40" y="38.49" font-size="5.4" text-anchor="end" font-weight="normal" fill="#2a2a2a" textLength="6.00" lengthAdjust="spacingAndGlyphs" stroke="#2a2a2a" stroke-width="0.08" >1.5</text>
<line x1="258.50" y1="4.50" x2="260.50" y2="4.50" stroke="#6e6e6e" stroke-width="0.9"/>
<text x="255.40" y="5.99" font-size="5.4" text-anchor="end" font-weight="normal" fill="#2a2a2a" textLength="6.00" lengthAdjust="spacingAndGlyphs" stroke="#2a2a2a" stroke-width="0.08" >2.0</text>
<text x="265.60" y="65.88" font-size="7.2" text-anchor="middle" font-weight="normal" fill="#000" stroke="#000" stroke-width="0.08">d</text>
<text x="273.30" y="65.88" font-size="7.2" text-anchor="middle" font-weight="normal" fill="#000" stroke="#000" stroke-width="0.08">D</text>
<text x="310.80" y="13.48" font-size="7.2" text-anchor="middle" font-weight="normal" fill="#000" stroke="#000" stroke-width="0.08">a A</text>
<text x="324.80" y="53.94" font-size="7.2" text-anchor="middle" font-weight="normal" fill="#000" stroke="#000" stroke-width="0.08">c</text>
<text x="332.30" y="44.18" font-size="7.2" text-anchor="middle" font-weight="normal" fill="#000" stroke="#000" stroke-width="0.08">C</text>
<text x="353.60" y="47.18" font-size="7.2" text-anchor="middle" font-weight="normal" fill="#000" stroke="#000" stroke-width="0.08">bc</text>
<text x="361.60" y="45.18" font-size="7.2" text-anchor="middle" font-weight="normal" fill="#000" stroke="#000" stroke-width="0.08">C</text>
<text x="382.80" y="47.68" font-size="7.2" text-anchor="middle" font-weight="normal" fill="#000" stroke="#000" stroke-width="0.08">bc</text>
<text x="391.10" y="34.68" font-size="7.2" text-anchor="middle" font-weight="normal" fill="#000" stroke="#000" stroke-width="0.08">B</text>
<text x="411.60" y="42.68" font-size="7.2" text-anchor="middle" font-weight="normal" fill="#000" stroke="#000" stroke-width="0.08">b</text>
<text x="420.80" y="33.98" font-size="7.2" text-anchor="middle" font-weight="normal" fill="#000" stroke="#000" stroke-width="0.08">B</text>
<rect x="343.80" y="4.10" width="14.90" height="7.50" fill="#9ee7bf" stroke="rgba(0,0,0,0.6)" stroke-width="0.7"/>
<text x="351.75" y="17.69" font-size="6.0" text-anchor="middle" font-weight="normal" fill="#222" textLength="17.50" lengthAdjust="spacingAndGlyphs" stroke="#222" stroke-width="0.12" >GL1-E1</text>
<rect x="361.10" y="4.10" width="15.10" height="7.50" fill="#ab9eea" stroke="rgba(0,0,0,0.6)" stroke-width="0.7"/>
<text x="370.00" y="17.69" font-size="6.0" text-anchor="middle" font-weight="normal" fill="#222" textLength="17.80" lengthAdjust="spacingAndGlyphs" stroke="#222" stroke-width="0.12" >GL1-E2</text>
<rect x="379.20" y="4.10" width="14.30" height="7.50" fill="#f9afab" stroke="rgba(0,0,0,0.6)" stroke-width="0.7"/>
<text x="388.20" y="17.69" font-size="6.0" text-anchor="middle" font-weight="normal" fill="#222" textLength="8.60" lengthAdjust="spacingAndGlyphs" stroke="#222" stroke-width="0.12" >LPS</text>
<text x="268.80" y="141.65" font-size="6.2" text-anchor="middle" font-weight="normal" fill="#222" stroke="#222" stroke-width="0.2" >CK</text>
<text x="309.30" y="141.65" font-size="6.2" text-anchor="middle" font-weight="normal" fill="#222" stroke="#222" stroke-width="0.2" >LPS</text>
<text x="330.00" y="142.05" font-size="6.2" text-anchor="middle" font-weight="normal" fill="#222" stroke="#222" stroke-width="0.2" >50</text>
<text x="359.50" y="142.05" font-size="6.2" text-anchor="middle" font-weight="normal" fill="#222" stroke="#222" stroke-width="0.2" >100</text>
<text x="388.30" y="142.05" font-size="6.2" text-anchor="middle" font-weight="normal" fill="#222" stroke="#222" stroke-width="0.2" >200</text>
<text x="418.00" y="142.05" font-size="6.2" text-anchor="middle" font-weight="normal" fill="#222" stroke="#222" stroke-width="0.2" >400</text>
<line x1="318.50" y1="144.50" x2="426.25" y2="144.50" stroke="#777" stroke-width="0.8"/>
<text x="371.00" y="152.38" font-size="6.6" text-anchor="middle" font-weight="normal" fill="#222" textLength="59.50" lengthAdjust="spacingAndGlyphs" stroke="#222" stroke-width="0.1" >Concentration (&#956;g/mL)</text>
<text x="338.40" y="176.41" font-size="9.4" text-anchor="middle" font-weight="bold" fill="#111" >(b)</text>
<text x="245.80" y="72.98" font-size="6.6" text-anchor="middle" font-weight="normal" fill="#222" textLength="94.40" lengthAdjust="spacingAndGlyphs" stroke="#222" stroke-width="0.1" transform="rotate(-90 245.80 70.80)">RAW 264.7 cell Phagocytosis Index</text>
<rect x="24.25" y="289.00" width="8.25" height="36.60" fill="#9ee7bf" stroke="rgba(0,0,0,0.5)" stroke-width="0.6"/>
<line x1="28.38" y1="287.80" x2="28.38" y2="290.20" stroke="#666" stroke-width="0.5"/>
<line x1="27.18" y1="287.80" x2="29.57" y2="287.80" stroke="#666" stroke-width="0.5"/>
<line x1="27.18" y1="290.20" x2="29.57" y2="290.20" stroke="#666" stroke-width="0.5"/>
<rect x="32.50" y="289.00" width="8.00" height="36.60" fill="#ab9eea" stroke="rgba(0,0,0,0.5)" stroke-width="0.6"/>
<line x1="36.50" y1="287.80" x2="36.50" y2="290.20" stroke="#666" stroke-width="0.5"/>
<line x1="35.30" y1="287.80" x2="37.70" y2="287.80" stroke="#666" stroke-width="0.5"/>
<line x1="35.30" y1="290.20" x2="37.70" y2="290.20" stroke="#666" stroke-width="0.5"/>
<rect x="70.00" y="213.30" width="8.00" height="112.30" fill="#f9afab" stroke="rgba(0,0,0,0.5)" stroke-width="0.6"/>
<rect x="83.25" y="284.00" width="8.00" height="41.60" fill="#9ee7bf" stroke="rgba(0,0,0,0.5)" stroke-width="0.6"/>
<line x1="87.25" y1="282.00" x2="87.25" y2="286.00" stroke="#666" stroke-width="0.5"/>
<line x1="86.05" y1="282.00" x2="88.45" y2="282.00" stroke="#666" stroke-width="0.5"/>
<line x1="86.05" y1="286.00" x2="88.45" y2="286.00" stroke="#666" stroke-width="0.5"/>
<rect x="91.25" y="277.50" width="8.25" height="48.10" fill="#ab9eea" stroke="rgba(0,0,0,0.5)" stroke-width="0.6"/>
<line x1="95.38" y1="275.50" x2="95.38" y2="279.50" stroke="#666" stroke-width="0.5"/>
<line x1="94.17" y1="275.50" x2="96.58" y2="275.50" stroke="#666" stroke-width="0.5"/>
<line x1="94.17" y1="279.50" x2="96.58" y2="279.50" stroke="#666" stroke-width="0.5"/>
<rect x="113.25" y="281.30" width="8.00" height="44.30" fill="#9ee7bf" stroke="rgba(0,0,0,0.5)" stroke-width="0.6"/>
<line x1="117.25" y1="280.70" x2="117.25" y2="281.90" stroke="#666" stroke-width="0.5"/>
<line x1="116.05" y1="280.70" x2="118.45" y2="280.70" stroke="#666" stroke-width="0.5"/>
<line x1="116.05" y1="281.90" x2="118.45" y2="281.90" stroke="#666" stroke-width="0.5"/>
<rect x="121.25" y="265.80" width="7.50" height="59.80" fill="#ab9eea" stroke="rgba(0,0,0,0.5)" stroke-width="0.6"/>
<line x1="125.00" y1="262.30" x2="125.00" y2="269.30" stroke="#666" stroke-width="0.5"/>
<line x1="123.80" y1="262.30" x2="126.20" y2="262.30" stroke="#666" stroke-width="0.5"/>
<line x1="123.80" y1="269.30" x2="126.20" y2="269.30" stroke="#666" stroke-width="0.5"/>
<rect x="142.50" y="284.50" width="8.00" height="41.10" fill="#9ee7bf" stroke="rgba(0,0,0,0.5)" stroke-width="0.6"/>
<line x1="146.50" y1="282.50" x2="146.50" y2="286.50" stroke="#666" stroke-width="0.5"/>
<line x1="145.30" y1="282.50" x2="147.70" y2="282.50" stroke="#666" stroke-width="0.5"/>
<line x1="145.30" y1="286.50" x2="147.70" y2="286.50" stroke="#666" stroke-width="0.5"/>
<rect x="150.50" y="260.00" width="7.75" height="65.60" fill="#ab9eea" stroke="rgba(0,0,0,0.5)" stroke-width="0.6"/>
<line x1="154.38" y1="259.40" x2="154.38" y2="260.60" stroke="#666" stroke-width="0.5"/>
<line x1="153.18" y1="259.40" x2="155.57" y2="259.40" stroke="#666" stroke-width="0.5"/>
<line x1="153.18" y1="260.60" x2="155.57" y2="260.60" stroke="#666" stroke-width="0.5"/>
<rect x="172.00" y="281.30" width="8.00" height="44.30" fill="#9ee7bf" stroke="rgba(0,0,0,0.5)" stroke-width="0.6"/>
<line x1="176.00" y1="280.70" x2="176.00" y2="281.90" stroke="#666" stroke-width="0.5"/>
<line x1="174.80" y1="280.70" x2="177.20" y2="280.70" stroke="#666" stroke-width="0.5"/>
<line x1="174.80" y1="281.90" x2="177.20" y2="281.90" stroke="#666" stroke-width="0.5"/>
<rect x="180.00" y="248.00" width="8.00" height="77.60" fill="#ab9eea" stroke="rgba(0,0,0,0.5)" stroke-width="0.6"/>
<line x1="184.00" y1="243.00" x2="184.00" y2="253.00" stroke="#666" stroke-width="0.5"/>
<line x1="182.80" y1="243.00" x2="185.20" y2="243.00" stroke="#666" stroke-width="0.5"/>
<line x1="182.80" y1="253.00" x2="185.20" y2="253.00" stroke="#666" stroke-width="0.5"/>
<line x1="21.80" y1="195.25" x2="21.80" y2="326.10" stroke="#6e6e6e" stroke-width="1.0"/>
<line x1="21.30" y1="325.60" x2="198.90" y2="325.60" stroke="#6e6e6e" stroke-width="1.0"/>
<line x1="21.80" y1="325.60" x2="23.80" y2="325.60" stroke="#6e6e6e" stroke-width="0.9"/>
<text x="18.80" y="327.09" font-size="5.4" text-anchor="end" font-weight="normal" fill="#2a2a2a" textLength="2.35" lengthAdjust="spacingAndGlyphs" stroke="#2a2a2a" stroke-width="0.08" >0</text>
<line x1="21.80" y1="307.05" x2="23.80" y2="307.05" stroke="#6e6e6e" stroke-width="0.9"/>
<text x="18.80" y="308.54" font-size="5.4" text-anchor="end" font-weight="normal" fill="#2a2a2a" textLength="4.70" lengthAdjust="spacingAndGlyphs" stroke="#2a2a2a" stroke-width="0.08" >10</text>
<line x1="21.80" y1="288.50" x2="23.80" y2="288.50" stroke="#6e6e6e" stroke-width="0.9"/>
<text x="18.80" y="289.99" font-size="5.4" text-anchor="end" font-weight="normal" fill="#2a2a2a" textLength="4.70" lengthAdjust="spacingAndGlyphs" stroke="#2a2a2a" stroke-width="0.08" >20</text>
<line x1="21.80" y1="269.95" x2="23.80" y2="269.95" stroke="#6e6e6e" stroke-width="0.9"/>
<text x="18.80" y="271.44" font-size="5.4" text-anchor="end" font-weight="normal" fill="#2a2a2a" textLength="4.70" lengthAdjust="spacingAndGlyphs" stroke="#2a2a2a" stroke-width="0.08" >30</text>
<line x1="21.80" y1="251.40" x2="23.80" y2="251.40" stroke="#6e6e6e" stroke-width="0.9"/>
<text x="18.80" y="252.89" font-size="5.4" text-anchor="end" font-weight="normal" fill="#2a2a2a" textLength="4.70" lengthAdjust="spacingAndGlyphs" stroke="#2a2a2a" stroke-width="0.08" >40</text>
<line x1="21.80" y1="232.85" x2="23.80" y2="232.85" stroke="#6e6e6e" stroke-width="0.9"/>
<text x="18.80" y="234.34" font-size="5.4" text-anchor="end" font-weight="normal" fill="#2a2a2a" textLength="4.70" lengthAdjust="spacingAndGlyphs" stroke="#2a2a2a" stroke-width="0.08" >50</text>
<line x1="21.80" y1="214.30" x2="23.80" y2="214.30" stroke="#6e6e6e" stroke-width="0.9"/>
<text x="18.80" y="215.79" font-size="5.4" text-anchor="end" font-weight="normal" fill="#2a2a2a" textLength="4.70" lengthAdjust="spacingAndGlyphs" stroke="#2a2a2a" stroke-width="0.08" >60</text>
<line x1="21.80" y1="195.75" x2="23.80" y2="195.75" stroke="#6e6e6e" stroke-width="0.9"/>
<text x="18.80" y="197.24" font-size="5.4" text-anchor="end" font-weight="normal" fill="#2a2a2a" textLength="4.70" lengthAdjust="spacingAndGlyphs" stroke="#2a2a2a" stroke-width="0.08" >70</text>
<text x="29.10" y="286.68" font-size="6.9" text-anchor="middle" font-weight="normal" fill="#111" stroke="#111" stroke-width="0.08">d</text>
<text x="37.10" y="286.38" font-size="6.9" text-anchor="middle" font-weight="normal" fill="#111" stroke="#111" stroke-width="0.08">E</text>
<text x="74.60" y="211.38" font-size="6.9" text-anchor="middle" font-weight="normal" fill="#111" stroke="#111" stroke-width="0.08">a A</text>
<text x="87.80" y="281.87" font-size="6.9" text-anchor="middle" font-weight="normal" fill="#111" stroke="#111" stroke-width="0.08">c</text>
<text x="95.80" y="273.38" font-size="6.9" text-anchor="middle" font-weight="normal" fill="#111" stroke="#111" stroke-width="0.08">D</text>
<text x="117.10" y="278.58" font-size="6.9" text-anchor="middle" font-weight="normal" fill="#111" stroke="#111" stroke-width="0.08">b</text>
<text x="125.30" y="260.38" font-size="6.9" text-anchor="middle" font-weight="normal" fill="#111" stroke="#111" stroke-width="0.08">C</text>
<text x="146.90" y="281.77" font-size="6.9" text-anchor="middle" font-weight="normal" fill="#111" stroke="#111" stroke-width="0.08">c</text>
<text x="155.00" y="255.58" font-size="6.9" text-anchor="middle" font-weight="normal" fill="#111" stroke="#111" stroke-width="0.08">C</text>
<text x="176.30" y="278.38" font-size="6.9" text-anchor="middle" font-weight="normal" fill="#111" stroke="#111" stroke-width="0.08">b</text>
<text x="184.70" y="240.88" font-size="6.9" text-anchor="middle" font-weight="normal" fill="#111" stroke="#111" stroke-width="0.08">B</text>
<rect x="106.10" y="199.20" width="14.70" height="7.10" fill="#9ee7bf" stroke="rgba(0,0,0,0.6)" stroke-width="0.7"/>
<text x="114.25" y="212.29" font-size="6.0" text-anchor="middle" font-weight="normal" fill="#222" textLength="16.90" lengthAdjust="spacingAndGlyphs" stroke="#222" stroke-width="0.12" font-style="italic">GL1-E1</text>
<rect x="124.10" y="199.20" width="14.50" height="7.10" fill="#ab9eea" stroke="rgba(0,0,0,0.6)" stroke-width="0.7"/>
<text x="132.35" y="212.29" font-size="6.0" text-anchor="middle" font-weight="normal" fill="#222" textLength="17.10" lengthAdjust="spacingAndGlyphs" stroke="#222" stroke-width="0.12" font-style="italic">GL1-E2</text>
<rect x="141.80" y="199.20" width="14.50" height="7.10" fill="#f9afab" stroke="rgba(0,0,0,0.6)" stroke-width="0.7"/>
<text x="150.40" y="212.29" font-size="6.0" text-anchor="middle" font-weight="normal" fill="#222" textLength="8.20" lengthAdjust="spacingAndGlyphs" stroke="#222" stroke-width="0.12" font-style="italic">LPS</text>
<text x="32.50" y="332.85" font-size="6.2" text-anchor="middle" font-weight="normal" fill="#222" stroke="#222" stroke-width="0.2" >CK</text>
<text x="72.50" y="332.85" font-size="6.2" text-anchor="middle" font-weight="normal" fill="#222" stroke="#222" stroke-width="0.2" >LPS</text>
<text x="93.80" y="333.25" font-size="6.2" text-anchor="middle" font-weight="normal" fill="#222" stroke="#222" stroke-width="0.2" >50</text>
<text x="122.50" y="333.25" font-size="6.2" text-anchor="middle" font-weight="normal" fill="#222" stroke="#222" stroke-width="0.2" >100</text>
<text x="148.80" y="333.25" font-size="6.2" text-anchor="middle" font-weight="normal" fill="#222" stroke="#222" stroke-width="0.2" >200</text>
<text x="181.80" y="333.25" font-size="6.2" text-anchor="middle" font-weight="normal" fill="#222" stroke="#222" stroke-width="0.2" >400</text>
<line x1="82.50" y1="335.50" x2="190.30" y2="335.50" stroke="#777" stroke-width="0.8"/>
<text x="134.75" y="343.68" font-size="6.6" text-anchor="middle" font-weight="normal" fill="#222" textLength="59.50" lengthAdjust="spacingAndGlyphs" stroke="#222" stroke-width="0.1" >Concentration (&#956;g/mL)</text>
<text x="102.00" y="367.61" font-size="9.4" text-anchor="middle" font-weight="bold" fill="#111" >(c)</text>
<text x="10.60" y="262.88" font-size="6.6" text-anchor="middle" font-weight="normal" fill="#222" textLength="28.60" lengthAdjust="spacingAndGlyphs" stroke="#222" stroke-width="0.1" transform="rotate(-90 10.60 260.70)">NO &#160;(&#956;M)</text>
<rect x="260.75" y="313.30" width="8.00" height="12.30" fill="#9ee7bf" stroke="rgba(0,0,0,0.5)" stroke-width="0.6"/>
<line x1="264.75" y1="311.80" x2="264.75" y2="314.80" stroke="#666" stroke-width="0.5"/>
<line x1="263.55" y1="311.80" x2="265.95" y2="311.80" stroke="#666" stroke-width="0.5"/>
<line x1="263.55" y1="314.80" x2="265.95" y2="314.80" stroke="#666" stroke-width="0.5"/>
<rect x="268.75" y="312.80" width="8.00" height="12.80" fill="#ab9eea" stroke="rgba(0,0,0,0.5)" stroke-width="0.6"/>
<line x1="272.75" y1="312.20" x2="272.75" y2="313.40" stroke="#666" stroke-width="0.5"/>
<line x1="271.55" y1="312.20" x2="273.95" y2="312.20" stroke="#666" stroke-width="0.5"/>
<line x1="271.55" y1="313.40" x2="273.95" y2="313.40" stroke="#666" stroke-width="0.5"/>
<rect x="305.75" y="207.00" width="8.00" height="118.60" fill="#f9afab" stroke="rgba(0,0,0,0.5)" stroke-width="0.6"/>
<line x1="309.75" y1="200.00" x2="309.75" y2="214.50" stroke="#666" stroke-width="0.5"/>
<line x1="308.55" y1="200.00" x2="310.95" y2="200.00" stroke="#666" stroke-width="0.5"/>
<line x1="308.55" y1="214.50" x2="310.95" y2="214.50" stroke="#666" stroke-width="0.5"/>
<rect x="319.50" y="309.00" width="8.00" height="16.60" fill="#9ee7bf" stroke="rgba(0,0,0,0.5)" stroke-width="0.6"/>
<line x1="323.50" y1="305.00" x2="323.50" y2="313.00" stroke="#666" stroke-width="0.5"/>
<line x1="322.30" y1="305.00" x2="324.70" y2="305.00" stroke="#666" stroke-width="0.5"/>
<line x1="322.30" y1="313.00" x2="324.70" y2="313.00" stroke="#666" stroke-width="0.5"/>
<rect x="327.50" y="300.80" width="8.25" height="24.80" fill="#ab9eea" stroke="rgba(0,0,0,0.5)" stroke-width="0.6"/>
<line x1="331.62" y1="300.20" x2="331.62" y2="301.40" stroke="#666" stroke-width="0.5"/>
<line x1="330.43" y1="300.20" x2="332.82" y2="300.20" stroke="#666" stroke-width="0.5"/>
<line x1="330.43" y1="301.40" x2="332.82" y2="301.40" stroke="#666" stroke-width="0.5"/>
<rect x="348.75" y="307.00" width="8.00" height="18.60" fill="#9ee7bf" stroke="rgba(0,0,0,0.5)" stroke-width="0.6"/>
<line x1="352.75" y1="303.00" x2="352.75" y2="311.00" stroke="#666" stroke-width="0.5"/>
<line x1="351.55" y1="303.00" x2="353.95" y2="303.00" stroke="#666" stroke-width="0.5"/>
<line x1="351.55" y1="311.00" x2="353.95" y2="311.00" stroke="#666" stroke-width="0.5"/>
<rect x="356.75" y="286.80" width="8.25" height="38.80" fill="#ab9eea" stroke="rgba(0,0,0,0.5)" stroke-width="0.6"/>
<line x1="360.88" y1="286.20" x2="360.88" y2="287.40" stroke="#666" stroke-width="0.5"/>
<line x1="359.68" y1="286.20" x2="362.07" y2="286.20" stroke="#666" stroke-width="0.5"/>
<line x1="359.68" y1="287.40" x2="362.07" y2="287.40" stroke="#666" stroke-width="0.5"/>
<rect x="378.25" y="297.50" width="8.00" height="28.10" fill="#9ee7bf" stroke="rgba(0,0,0,0.5)" stroke-width="0.6"/>
<line x1="382.25" y1="294.00" x2="382.25" y2="301.00" stroke="#666" stroke-width="0.5"/>
<line x1="381.05" y1="294.00" x2="383.45" y2="294.00" stroke="#666" stroke-width="0.5"/>
<line x1="381.05" y1="301.00" x2="383.45" y2="301.00" stroke="#666" stroke-width="0.5"/>
<rect x="386.25" y="266.30" width="8.25" height="59.30" fill="#ab9eea" stroke="rgba(0,0,0,0.5)" stroke-width="0.6"/>
<line x1="390.38" y1="256.30" x2="390.38" y2="276.30" stroke="#666" stroke-width="0.5"/>
<line x1="389.18" y1="256.30" x2="391.57" y2="256.30" stroke="#666" stroke-width="0.5"/>
<line x1="389.18" y1="276.30" x2="391.57" y2="276.30" stroke="#666" stroke-width="0.5"/>
<rect x="407.50" y="290.80" width="8.00" height="34.80" fill="#9ee7bf" stroke="rgba(0,0,0,0.5)" stroke-width="0.6"/>
<line x1="411.50" y1="285.80" x2="411.50" y2="295.80" stroke="#666" stroke-width="0.5"/>
<line x1="410.30" y1="285.80" x2="412.70" y2="285.80" stroke="#666" stroke-width="0.5"/>
<line x1="410.30" y1="295.80" x2="412.70" y2="295.80" stroke="#666" stroke-width="0.5"/>
<rect x="415.50" y="218.00" width="8.25" height="107.60" fill="#ab9eea" stroke="rgba(0,0,0,0.5)" stroke-width="0.6"/>
<line x1="419.62" y1="204.00" x2="419.62" y2="232.00" stroke="#666" stroke-width="0.5"/>
<line x1="418.43" y1="204.00" x2="420.82" y2="204.00" stroke="#666" stroke-width="0.5"/>
<line x1="418.43" y1="232.00" x2="420.82" y2="232.00" stroke="#666" stroke-width="0.5"/>
<line x1="257.70" y1="195.25" x2="257.70" y2="326.10" stroke="#6e6e6e" stroke-width="1.0"/>
<line x1="257.20" y1="325.60" x2="434.50" y2="325.60" stroke="#6e6e6e" stroke-width="1.0"/>
<line x1="257.70" y1="325.60" x2="259.70" y2="325.60" stroke="#6e6e6e" stroke-width="0.9"/>
<text x="255.00" y="327.09" font-size="5.4" text-anchor="end" font-weight="normal" fill="#2a2a2a" textLength="2.35" lengthAdjust="spacingAndGlyphs" stroke="#2a2a2a" stroke-width="0.08" >0</text>
<line x1="257.70" y1="299.63" x2="259.70" y2="299.63" stroke="#6e6e6e" stroke-width="0.9"/>
<text x="255.00" y="301.12" font-size="5.4" text-anchor="end" font-weight="normal" fill="#2a2a2a" textLength="2.35" lengthAdjust="spacingAndGlyphs" stroke="#2a2a2a" stroke-width="0.08" >2</text>
<line x1="257.70" y1="273.66" x2="259.70" y2="273.66" stroke="#6e6e6e" stroke-width="0.9"/>
<text x="255.00" y="275.15" font-size="5.4" text-anchor="end" font-weight="normal" fill="#2a2a2a" textLength="2.35" lengthAdjust="spacingAndGlyphs" stroke="#2a2a2a" stroke-width="0.08" >4</text>
<line x1="257.70" y1="247.69" x2="259.70" y2="247.69" stroke="#6e6e6e" stroke-width="0.9"/>
<text x="255.00" y="249.18" font-size="5.4" text-anchor="end" font-weight="normal" fill="#2a2a2a" textLength="2.35" lengthAdjust="spacingAndGlyphs" stroke="#2a2a2a" stroke-width="0.08" >6</text>
<line x1="257.70" y1="221.72" x2="259.70" y2="221.72" stroke="#6e6e6e" stroke-width="0.9"/>
<text x="255.00" y="223.21" font-size="5.4" text-anchor="end" font-weight="normal" fill="#2a2a2a" textLength="2.35" lengthAdjust="spacingAndGlyphs" stroke="#2a2a2a" stroke-width="0.08" >8</text>
<line x1="257.70" y1="195.75" x2="259.70" y2="195.75" stroke="#6e6e6e" stroke-width="0.9"/>
<text x="255.00" y="197.24" font-size="5.4" text-anchor="end" font-weight="normal" fill="#2a2a2a" textLength="4.70" lengthAdjust="spacingAndGlyphs" stroke="#2a2a2a" stroke-width="0.08" >10</text>
<text x="265.30" y="307.90" font-size="7.0" text-anchor="middle" font-weight="normal" fill="#111" stroke="#111" stroke-width="0.08">c</text>
<text x="272.80" y="309.92" font-size="7.0" text-anchor="middle" font-weight="normal" fill="#111" stroke="#111" stroke-width="0.08">B</text>
<text x="310.80" y="198.92" font-size="7.0" text-anchor="middle" font-weight="normal" fill="#111" stroke="#111" stroke-width="0.08">a A</text>
<text x="323.60" y="303.70" font-size="7.0" text-anchor="middle" font-weight="normal" fill="#111" stroke="#111" stroke-width="0.08">c</text>
<text x="331.90" y="297.02" font-size="7.0" text-anchor="middle" font-weight="normal" fill="#111" stroke="#111" stroke-width="0.08">C</text>
<text x="353.30" y="300.90" font-size="7.0" text-anchor="middle" font-weight="normal" fill="#111" stroke="#111" stroke-width="0.08">c</text>
<text x="361.60" y="281.62" font-size="7.0" text-anchor="middle" font-weight="normal" fill="#111" stroke="#111" stroke-width="0.08">D</text>
<text x="382.60" y="291.52" font-size="7.0" text-anchor="middle" font-weight="normal" fill="#111" stroke="#111" stroke-width="0.08">d</text>
<text x="390.60" y="254.82" font-size="7.0" text-anchor="middle" font-weight="normal" fill="#111" stroke="#111" stroke-width="0.08">E</text>
<text x="411.60" y="283.92" font-size="7.0" text-anchor="middle" font-weight="normal" fill="#111" stroke="#111" stroke-width="0.08">d</text>
<text x="420.30" y="206.12" font-size="7.0" text-anchor="middle" font-weight="normal" fill="#111" stroke="#111" stroke-width="0.08">F</text>
<rect x="343.20" y="195.20" width="14.60" height="7.40" fill="#9ee7bf" stroke="rgba(0,0,0,0.6)" stroke-width="0.7"/>
<text x="351.30" y="208.69" font-size="6.0" text-anchor="middle" font-weight="normal" fill="#222" textLength="17.00" lengthAdjust="spacingAndGlyphs" stroke="#222" stroke-width="0.12" >GL1-E1</text>
<rect x="361.20" y="195.20" width="14.30" height="7.40" fill="#ab9eea" stroke="rgba(0,0,0,0.6)" stroke-width="0.7"/>
<text x="369.35" y="208.69" font-size="6.0" text-anchor="middle" font-weight="normal" fill="#222" textLength="17.70" lengthAdjust="spacingAndGlyphs" stroke="#222" stroke-width="0.12" >GL1-E2</text>
<rect x="378.90" y="195.20" width="14.40" height="7.40" fill="#f9afab" stroke="rgba(0,0,0,0.6)" stroke-width="0.7"/>
<text x="387.65" y="208.69" font-size="6.0" text-anchor="middle" font-weight="normal" fill="#222" textLength="9.30" lengthAdjust="spacingAndGlyphs" stroke="#222" stroke-width="0.12" >LPS</text>
<text x="268.30" y="332.85" font-size="6.2" text-anchor="middle" font-weight="normal" fill="#222" stroke="#222" stroke-width="0.2" >CK</text>
<text x="308.80" y="332.85" font-size="6.2" text-anchor="middle" font-weight="normal" fill="#222" stroke="#222" stroke-width="0.2" >LPS</text>
<text x="330.00" y="333.25" font-size="6.2" text-anchor="middle" font-weight="normal" fill="#222" stroke="#222" stroke-width="0.2" >50</text>
<text x="358.80" y="333.25" font-size="6.2" text-anchor="middle" font-weight="normal" fill="#222" stroke="#222" stroke-width="0.2" >100</text>
<text x="388.50" y="333.25" font-size="6.2" text-anchor="middle" font-weight="normal" fill="#222" stroke="#222" stroke-width="0.2" >200</text>
<text x="418.00" y="333.25" font-size="6.2" text-anchor="middle" font-weight="normal" fill="#222" stroke="#222" stroke-width="0.2" >400</text>
<line x1="318.75" y1="335.30" x2="426.25" y2="335.30" stroke="#777" stroke-width="0.8"/>
<text x="370.62" y="343.68" font-size="6.6" text-anchor="middle" font-weight="normal" fill="#222" textLength="58.75" lengthAdjust="spacingAndGlyphs" stroke="#222" stroke-width="0.1" >Concentration (&#956;g/mL)</text>
<text x="338.00" y="367.11" font-size="9.4" text-anchor="middle" font-weight="bold" fill="#111" >(d)</text>
<text x="246.60" y="264.95" font-size="6.8" text-anchor="middle" font-weight="normal" fill="#222" textLength="73.40" lengthAdjust="spacingAndGlyphs" stroke="#222" stroke-width="0.1" transform="rotate(-90 246.60 262.70)">Relative expression (TNF-a)</text>
<rect x="30.50" y="480.00" width="7.10" height="23.40" fill="#9ee7bf" stroke="rgba(0,0,0,0.5)" stroke-width="0.6"/>
<line x1="34.05" y1="476.00" x2="34.05" y2="484.00" stroke="#666" stroke-width="0.5"/>
<line x1="32.85" y1="476.00" x2="35.25" y2="476.00" stroke="#666" stroke-width="0.5"/>
<line x1="32.85" y1="484.00" x2="35.25" y2="484.00" stroke="#666" stroke-width="0.5"/>
<rect x="37.60" y="480.00" width="7.00" height="23.40" fill="#ab9eea" stroke="rgba(0,0,0,0.5)" stroke-width="0.6"/>
<line x1="41.10" y1="477.00" x2="41.10" y2="483.00" stroke="#666" stroke-width="0.5"/>
<line x1="39.90" y1="477.00" x2="42.30" y2="477.00" stroke="#666" stroke-width="0.5"/>
<line x1="39.90" y1="483.00" x2="42.30" y2="483.00" stroke="#666" stroke-width="0.5"/>
<rect x="71.75" y="409.30" width="7.25" height="94.10" fill="#f9afab" stroke="rgba(0,0,0,0.5)" stroke-width="0.6"/>
<line x1="75.38" y1="408.70" x2="75.38" y2="409.90" stroke="#666" stroke-width="0.5"/>
<line x1="74.17" y1="408.70" x2="76.58" y2="408.70" stroke="#666" stroke-width="0.5"/>
<line x1="74.17" y1="409.90" x2="76.58" y2="409.90" stroke="#666" stroke-width="0.5"/>
<rect x="83.75" y="482.00" width="7.50" height="21.40" fill="#9ee7bf" stroke="rgba(0,0,0,0.5)" stroke-width="0.6"/>
<line x1="87.50" y1="480.50" x2="87.50" y2="483.50" stroke="#666" stroke-width="0.5"/>
<line x1="86.30" y1="480.50" x2="88.70" y2="480.50" stroke="#666" stroke-width="0.5"/>
<line x1="86.30" y1="483.50" x2="88.70" y2="483.50" stroke="#666" stroke-width="0.5"/>
<rect x="91.25" y="484.50" width="7.50" height="18.90" fill="#ab9eea" stroke="rgba(0,0,0,0.5)" stroke-width="0.6"/>
<line x1="95.00" y1="481.50" x2="95.00" y2="487.50" stroke="#666" stroke-width="0.5"/>
<line x1="93.80" y1="481.50" x2="96.20" y2="481.50" stroke="#666" stroke-width="0.5"/>
<line x1="93.80" y1="487.50" x2="96.20" y2="487.50" stroke="#666" stroke-width="0.5"/>
<rect x="110.50" y="478.00" width="7.00" height="25.40" fill="#9ee7bf" stroke="rgba(0,0,0,0.5)" stroke-width="0.6"/>
<line x1="114.00" y1="472.00" x2="114.00" y2="484.00" stroke="#666" stroke-width="0.5"/>
<line x1="112.80" y1="472.00" x2="115.20" y2="472.00" stroke="#666" stroke-width="0.5"/>
<line x1="112.80" y1="484.00" x2="115.20" y2="484.00" stroke="#666" stroke-width="0.5"/>
<rect x="117.50" y="474.30" width="7.50" height="29.10" fill="#ab9eea" stroke="rgba(0,0,0,0.5)" stroke-width="0.6"/>
<line x1="121.25" y1="469.80" x2="121.25" y2="478.80" stroke="#666" stroke-width="0.5"/>
<line x1="120.05" y1="469.80" x2="122.45" y2="469.80" stroke="#666" stroke-width="0.5"/>
<line x1="120.05" y1="478.80" x2="122.45" y2="478.80" stroke="#666" stroke-width="0.5"/>
<rect x="137.50" y="440.50" width="7.00" height="62.90" fill="#9ee7bf" stroke="rgba(0,0,0,0.5)" stroke-width="0.6"/>
<line x1="141.00" y1="437.00" x2="141.00" y2="444.00" stroke="#666" stroke-width="0.5"/>
<line x1="139.80" y1="437.00" x2="142.20" y2="437.00" stroke="#666" stroke-width="0.5"/>
<line x1="139.80" y1="444.00" x2="142.20" y2="444.00" stroke="#666" stroke-width="0.5"/>
<rect x="144.50" y="472.50" width="7.50" height="30.90" fill="#ab9eea" stroke="rgba(0,0,0,0.5)" stroke-width="0.6"/>
<line x1="148.25" y1="467.50" x2="148.25" y2="477.50" stroke="#666" stroke-width="0.5"/>
<line x1="147.05" y1="467.50" x2="149.45" y2="467.50" stroke="#666" stroke-width="0.5"/>
<line x1="147.05" y1="477.50" x2="149.45" y2="477.50" stroke="#666" stroke-width="0.5"/>
<rect x="164.25" y="434.30" width="7.25" height="69.10" fill="#9ee7bf" stroke="rgba(0,0,0,0.5)" stroke-width="0.6"/>
<line x1="167.88" y1="429.30" x2="167.88" y2="439.30" stroke="#666" stroke-width="0.5"/>
<line x1="166.68" y1="429.30" x2="169.07" y2="429.30" stroke="#666" stroke-width="0.5"/>
<line x1="166.68" y1="439.30" x2="169.07" y2="439.30" stroke="#666" stroke-width="0.5"/>
<rect x="171.50" y="440.50" width="7.25" height="62.90" fill="#ab9eea" stroke="rgba(0,0,0,0.5)" stroke-width="0.6"/>
<line x1="175.12" y1="436.00" x2="175.12" y2="445.00" stroke="#666" stroke-width="0.5"/>
<line x1="173.93" y1="436.00" x2="176.32" y2="436.00" stroke="#666" stroke-width="0.5"/>
<line x1="173.93" y1="445.00" x2="176.32" y2="445.00" stroke="#666" stroke-width="0.5"/>
<line x1="28.40" y1="385.00" x2="28.40" y2="503.90" stroke="#6e6e6e" stroke-width="1.0"/>
<line x1="27.90" y1="503.40" x2="188.25" y2="503.40" stroke="#6e6e6e" stroke-width="1.0"/>
<line x1="28.40" y1="503.40" x2="30.40" y2="503.40" stroke="#6e6e6e" stroke-width="0.9"/>
<text x="25.00" y="504.75" font-size="5.0" text-anchor="end" font-weight="normal" fill="#2a2a2a" textLength="1.90" lengthAdjust="spacingAndGlyphs" stroke="#2a2a2a" stroke-width="0.08" >0</text>
<line x1="28.40" y1="479.82" x2="30.40" y2="479.82" stroke="#6e6e6e" stroke-width="0.9"/>
<text x="25.00" y="481.17" font-size="5.0" text-anchor="end" font-weight="normal" fill="#2a2a2a" textLength="1.90" lengthAdjust="spacingAndGlyphs" stroke="#2a2a2a" stroke-width="0.08" >1</text>
<line x1="28.40" y1="456.24" x2="30.40" y2="456.24" stroke="#6e6e6e" stroke-width="0.9"/>
<text x="25.00" y="457.59" font-size="5.0" text-anchor="end" font-weight="normal" fill="#2a2a2a" textLength="1.90" lengthAdjust="spacingAndGlyphs" stroke="#2a2a2a" stroke-width="0.08" >2</text>
<line x1="28.40" y1="432.66" x2="30.40" y2="432.66" stroke="#6e6e6e" stroke-width="0.9"/>
<text x="25.00" y="434.01" font-size="5.0" text-anchor="end" font-weight="normal" fill="#2a2a2a" textLength="1.90" lengthAdjust="spacingAndGlyphs" stroke="#2a2a2a" stroke-width="0.08" >3</text>
<line x1="28.40" y1="409.08" x2="30.40" y2="409.08" stroke="#6e6e6e" stroke-width="0.9"/>
<text x="25.00" y="410.43" font-size="5.0" text-anchor="end" font-weight="normal" fill="#2a2a2a" textLength="1.90" lengthAdjust="spacingAndGlyphs" stroke="#2a2a2a" stroke-width="0.08" >4</text>
<line x1="28.40" y1="385.50" x2="30.40" y2="385.50" stroke="#6e6e6e" stroke-width="0.9"/>
<text x="25.00" y="386.85" font-size="5.0" text-anchor="end" font-weight="normal" fill="#2a2a2a" textLength="1.90" lengthAdjust="spacingAndGlyphs" stroke="#2a2a2a" stroke-width="0.08" >5</text>
<text x="34.60" y="473.35" font-size="6.8" text-anchor="middle" font-weight="normal" fill="#111" stroke="#111" stroke-width="0.08">c</text>
<text x="42.60" y="474.55" font-size="6.8" text-anchor="middle" font-weight="normal" fill="#111" stroke="#111" stroke-width="0.08">CD</text>
<text x="75.90" y="402.65" font-size="6.8" text-anchor="middle" font-weight="normal" fill="#111" stroke="#111" stroke-width="0.08">a A</text>
<text x="87.90" y="479.15" font-size="6.8" text-anchor="middle" font-weight="normal" fill="#111" stroke="#111" stroke-width="0.08">c</text>
<text x="95.50" y="479.35" font-size="6.8" text-anchor="middle" font-weight="normal" fill="#111" stroke="#111" stroke-width="0.08">D</text>
<text x="114.50" y="470.25" font-size="6.8" text-anchor="middle" font-weight="normal" fill="#111" stroke="#111" stroke-width="0.08">c</text>
<text x="121.90" y="467.55" font-size="6.8" text-anchor="middle" font-weight="normal" fill="#111" stroke="#111" stroke-width="0.08">C</text>
<text x="141.50" y="434.05" font-size="6.8" text-anchor="middle" font-weight="normal" fill="#111" stroke="#111" stroke-width="0.08">b</text>
<text x="148.90" y="465.95" font-size="6.8" text-anchor="middle" font-weight="normal" fill="#111" stroke="#111" stroke-width="0.08">C</text>
<text x="168.30" y="425.75" font-size="6.8" text-anchor="middle" font-weight="normal" fill="#111" stroke="#111" stroke-width="0.08">b</text>
<text x="175.70" y="432.15" font-size="6.8" text-anchor="middle" font-weight="normal" fill="#111" stroke="#111" stroke-width="0.08">B</text>
<rect x="105.70" y="384.50" width="13.40" height="6.70" fill="#9ee7bf" stroke="rgba(0,0,0,0.6)" stroke-width="0.7"/>
<text x="113.00" y="397.12" font-size="5.2" text-anchor="middle" font-weight="normal" fill="#222" textLength="15.00" lengthAdjust="spacingAndGlyphs" stroke="#222" stroke-width="0.12" >GL1-E1</text>
<rect x="121.80" y="384.50" width="13.00" height="6.70" fill="#ab9eea" stroke="rgba(0,0,0,0.6)" stroke-width="0.7"/>
<text x="129.35" y="397.12" font-size="5.2" text-anchor="middle" font-weight="normal" fill="#222" textLength="15.50" lengthAdjust="spacingAndGlyphs" stroke="#222" stroke-width="0.12" >GL1-E2</text>
<rect x="137.80" y="384.50" width="13.10" height="6.70" fill="#f9afab" stroke="rgba(0,0,0,0.6)" stroke-width="0.7"/>
<text x="145.70" y="397.12" font-size="5.2" text-anchor="middle" font-weight="normal" fill="#222" textLength="8.20" lengthAdjust="spacingAndGlyphs" stroke="#222" stroke-width="0.12" >LPS</text>
<text x="37.50" y="510.05" font-size="5.3" text-anchor="middle" font-weight="normal" fill="#222" stroke="#222" stroke-width="0.2" >CK</text>
<text x="74.30" y="510.05" font-size="5.3" text-anchor="middle" font-weight="normal" fill="#222" stroke="#222" stroke-width="0.2" >LPS</text>
<text x="93.80" y="510.05" font-size="5.3" text-anchor="middle" font-weight="normal" fill="#222" stroke="#222" stroke-width="0.2" >50</text>
<text x="120.00" y="510.05" font-size="5.3" text-anchor="middle" font-weight="normal" fill="#222" stroke="#222" stroke-width="0.2" >100</text>
<text x="146.30" y="510.05" font-size="5.3" text-anchor="middle" font-weight="normal" fill="#222" stroke="#222" stroke-width="0.2" >200</text>
<text x="173.00" y="510.05" font-size="5.3" text-anchor="middle" font-weight="normal" fill="#222" stroke="#222" stroke-width="0.2" >400</text>
<line x1="82.50" y1="511.80" x2="180.50" y2="511.80" stroke="#777" stroke-width="0.8"/>
<text x="130.88" y="519.18" font-size="6.6" text-anchor="middle" font-weight="normal" fill="#222" textLength="54.25" lengthAdjust="spacingAndGlyphs" stroke="#222" stroke-width="0.1" >Concentration (&#956;g/mL)</text>
<text x="102.50" y="541.91" font-size="9.4" text-anchor="middle" font-weight="bold" fill="#111" >(e)</text>
<text x="19.90" y="446.62" font-size="6.4" text-anchor="middle" font-weight="normal" fill="#222" textLength="67.70" lengthAdjust="spacingAndGlyphs" stroke="#222" stroke-width="0.1" transform="rotate(-90 19.90 444.50)">Relative expression (IL-1&#946;)</text>
<rect x="266.75" y="485.80" width="7.75" height="15.50" fill="#9ee7bf" stroke="rgba(0,0,0,0.5)" stroke-width="0.6"/>
<line x1="270.62" y1="483.30" x2="270.62" y2="488.30" stroke="#666" stroke-width="0.5"/>
<line x1="269.43" y1="483.30" x2="271.82" y2="483.30" stroke="#666" stroke-width="0.5"/>
<line x1="269.43" y1="488.30" x2="271.82" y2="488.30" stroke="#666" stroke-width="0.5"/>
<rect x="274.50" y="485.80" width="7.50" height="15.50" fill="#ab9eea" stroke="rgba(0,0,0,0.5)" stroke-width="0.6"/>
<line x1="278.25" y1="483.30" x2="278.25" y2="488.30" stroke="#666" stroke-width="0.5"/>
<line x1="277.05" y1="483.30" x2="279.45" y2="483.30" stroke="#666" stroke-width="0.5"/>
<line x1="277.05" y1="488.30" x2="279.45" y2="488.30" stroke="#666" stroke-width="0.5"/>
<rect x="308.25" y="397.50" width="7.50" height="103.80" fill="#f9afab" stroke="rgba(0,0,0,0.5)" stroke-width="0.6"/>
<line x1="312.00" y1="396.90" x2="312.00" y2="398.10" stroke="#666" stroke-width="0.5"/>
<line x1="310.80" y1="396.90" x2="313.20" y2="396.90" stroke="#666" stroke-width="0.5"/>
<line x1="310.80" y1="398.10" x2="313.20" y2="398.10" stroke="#666" stroke-width="0.5"/>
<rect x="321.40" y="485.50" width="6.80" height="15.80" fill="#9ee7bf" stroke="rgba(0,0,0,0.5)" stroke-width="0.6"/>
<line x1="324.80" y1="484.00" x2="324.80" y2="487.00" stroke="#666" stroke-width="0.5"/>
<line x1="323.60" y1="484.00" x2="326.00" y2="484.00" stroke="#666" stroke-width="0.5"/>
<line x1="323.60" y1="487.00" x2="326.00" y2="487.00" stroke="#666" stroke-width="0.5"/>
<rect x="328.20" y="483.30" width="7.30" height="18.00" fill="#ab9eea" stroke="rgba(0,0,0,0.5)" stroke-width="0.6"/>
<line x1="331.85" y1="482.30" x2="331.85" y2="484.30" stroke="#666" stroke-width="0.5"/>
<line x1="330.65" y1="482.30" x2="333.05" y2="482.30" stroke="#666" stroke-width="0.5"/>
<line x1="330.65" y1="484.30" x2="333.05" y2="484.30" stroke="#666" stroke-width="0.5"/>
<rect x="347.30" y="481.40" width="7.30" height="19.90" fill="#9ee7bf" stroke="rgba(0,0,0,0.5)" stroke-width="0.6"/>
<line x1="350.95" y1="476.90" x2="350.95" y2="485.90" stroke="#666" stroke-width="0.5"/>
<line x1="349.75" y1="476.90" x2="352.15" y2="476.90" stroke="#666" stroke-width="0.5"/>
<line x1="349.75" y1="485.90" x2="352.15" y2="485.90" stroke="#666" stroke-width="0.5"/>
<rect x="354.60" y="466.40" width="7.10" height="34.90" fill="#ab9eea" stroke="rgba(0,0,0,0.5)" stroke-width="0.6"/>
<line x1="358.15" y1="465.80" x2="358.15" y2="467.00" stroke="#666" stroke-width="0.5"/>
<line x1="356.95" y1="465.80" x2="359.35" y2="465.80" stroke="#666" stroke-width="0.5"/>
<line x1="356.95" y1="467.00" x2="359.35" y2="467.00" stroke="#666" stroke-width="0.5"/>
<rect x="373.70" y="479.20" width="7.10" height="22.10" fill="#9ee7bf" stroke="rgba(0,0,0,0.5)" stroke-width="0.6"/>
<line x1="377.25" y1="475.20" x2="377.25" y2="483.20" stroke="#666" stroke-width="0.5"/>
<line x1="376.05" y1="475.20" x2="378.45" y2="475.20" stroke="#666" stroke-width="0.5"/>
<line x1="376.05" y1="483.20" x2="378.45" y2="483.20" stroke="#666" stroke-width="0.5"/>
<rect x="380.80" y="459.50" width="7.40" height="41.80" fill="#ab9eea" stroke="rgba(0,0,0,0.5)" stroke-width="0.6"/>
<line x1="384.50" y1="458.90" x2="384.50" y2="460.10" stroke="#666" stroke-width="0.5"/>
<line x1="383.30" y1="458.90" x2="385.70" y2="458.90" stroke="#666" stroke-width="0.5"/>
<line x1="383.30" y1="460.10" x2="385.70" y2="460.10" stroke="#666" stroke-width="0.5"/>
<rect x="399.90" y="483.30" width="7.40" height="18.00" fill="#9ee7bf" stroke="rgba(0,0,0,0.5)" stroke-width="0.6"/>
<line x1="403.60" y1="481.30" x2="403.60" y2="485.30" stroke="#666" stroke-width="0.5"/>
<line x1="402.40" y1="481.30" x2="404.80" y2="481.30" stroke="#666" stroke-width="0.5"/>
<line x1="402.40" y1="485.30" x2="404.80" y2="485.30" stroke="#666" stroke-width="0.5"/>
<rect x="407.30" y="436.80" width="7.45" height="64.50" fill="#ab9eea" stroke="rgba(0,0,0,0.5)" stroke-width="0.6"/>
<line x1="411.02" y1="436.20" x2="411.02" y2="437.40" stroke="#666" stroke-width="0.5"/>
<line x1="409.82" y1="436.20" x2="412.22" y2="436.20" stroke="#666" stroke-width="0.5"/>
<line x1="409.82" y1="437.40" x2="412.22" y2="437.40" stroke="#666" stroke-width="0.5"/>
<line x1="265.30" y1="384.10" x2="265.30" y2="501.80" stroke="#6e6e6e" stroke-width="1.0"/>
<line x1="264.80" y1="501.30" x2="424.40" y2="501.30" stroke="#6e6e6e" stroke-width="1.0"/>
<line x1="265.30" y1="501.30" x2="267.30" y2="501.30" stroke="#6e6e6e" stroke-width="0.9"/>
<text x="262.30" y="502.62" font-size="4.9" text-anchor="end" font-weight="normal" fill="#2a2a2a" textLength="2.00" lengthAdjust="spacingAndGlyphs" stroke="#2a2a2a" stroke-width="0.08" >0</text>
<line x1="265.30" y1="485.75" x2="267.30" y2="485.75" stroke="#6e6e6e" stroke-width="0.9"/>
<text x="262.30" y="487.07" font-size="4.9" text-anchor="end" font-weight="normal" fill="#2a2a2a" textLength="2.00" lengthAdjust="spacingAndGlyphs" stroke="#2a2a2a" stroke-width="0.08" >1</text>
<line x1="265.30" y1="470.20" x2="267.30" y2="470.20" stroke="#6e6e6e" stroke-width="0.9"/>
<text x="262.30" y="471.52" font-size="4.9" text-anchor="end" font-weight="normal" fill="#2a2a2a" textLength="2.00" lengthAdjust="spacingAndGlyphs" stroke="#2a2a2a" stroke-width="0.08" >2</text>
<line x1="265.30" y1="454.65" x2="267.30" y2="454.65" stroke="#6e6e6e" stroke-width="0.9"/>
<text x="262.30" y="455.97" font-size="4.9" text-anchor="end" font-weight="normal" fill="#2a2a2a" textLength="2.00" lengthAdjust="spacingAndGlyphs" stroke="#2a2a2a" stroke-width="0.08" >3</text>
<line x1="265.30" y1="439.10" x2="267.30" y2="439.10" stroke="#6e6e6e" stroke-width="0.9"/>
<text x="262.30" y="440.42" font-size="4.9" text-anchor="end" font-weight="normal" fill="#2a2a2a" textLength="2.00" lengthAdjust="spacingAndGlyphs" stroke="#2a2a2a" stroke-width="0.08" >4</text>
<line x1="265.30" y1="423.55" x2="267.30" y2="423.55" stroke="#6e6e6e" stroke-width="0.9"/>
<text x="262.30" y="424.87" font-size="4.9" text-anchor="end" font-weight="normal" fill="#2a2a2a" textLength="2.00" lengthAdjust="spacingAndGlyphs" stroke="#2a2a2a" stroke-width="0.08" >5</text>
<line x1="265.30" y1="408.00" x2="267.30" y2="408.00" stroke="#6e6e6e" stroke-width="0.9"/>
<text x="262.30" y="409.32" font-size="4.9" text-anchor="end" font-weight="normal" fill="#2a2a2a" textLength="2.00" lengthAdjust="spacingAndGlyphs" stroke="#2a2a2a" stroke-width="0.08" >6</text>
<line x1="265.30" y1="392.45" x2="267.30" y2="392.45" stroke="#6e6e6e" stroke-width="0.9"/>
<text x="262.30" y="393.77" font-size="4.9" text-anchor="end" font-weight="normal" fill="#2a2a2a" textLength="2.00" lengthAdjust="spacingAndGlyphs" stroke="#2a2a2a" stroke-width="0.08" >7</text>
<text x="271.60" y="480.76" font-size="6.4" text-anchor="middle" font-weight="normal" fill="#1a1a1a" stroke="#1a1a1a" stroke-width="0.08">c</text>
<text x="279.10" y="480.72" font-size="6.4" text-anchor="middle" font-weight="normal" fill="#1a1a1a" stroke="#1a1a1a" stroke-width="0.08">E</text>
<text x="312.80" y="393.22" font-size="6.4" text-anchor="middle" font-weight="normal" fill="#1a1a1a" stroke="#1a1a1a" stroke-width="0.08">a A</text>
<text x="324.40" y="479.86" font-size="6.4" text-anchor="middle" font-weight="normal" fill="#1a1a1a" stroke="#1a1a1a" stroke-width="0.08">c</text>
<text x="332.30" y="479.02" font-size="6.4" text-anchor="middle" font-weight="normal" fill="#1a1a1a" stroke="#1a1a1a" stroke-width="0.08">E</text>
<text x="350.90" y="474.92" font-size="6.4" text-anchor="middle" font-weight="normal" fill="#1a1a1a" stroke="#1a1a1a" stroke-width="0.08">bc</text>
<text x="359.00" y="464.22" font-size="6.4" text-anchor="middle" font-weight="normal" fill="#1a1a1a" stroke="#1a1a1a" stroke-width="0.08">D</text>
<text x="377.40" y="473.77" font-size="6.4" text-anchor="middle" font-weight="normal" fill="#1a1a1a" stroke="#1a1a1a" stroke-width="0.08">b</text>
<text x="384.80" y="455.72" font-size="6.4" text-anchor="middle" font-weight="normal" fill="#1a1a1a" stroke="#1a1a1a" stroke-width="0.08">C</text>
<text x="404.00" y="479.02" font-size="6.4" text-anchor="middle" font-weight="normal" fill="#1a1a1a" stroke="#1a1a1a" stroke-width="0.08">bc</text>
<text x="411.80" y="430.12" font-size="6.4" text-anchor="middle" font-weight="normal" fill="#1a1a1a" stroke="#1a1a1a" stroke-width="0.08">B</text>
<rect x="338.80" y="387.10" width="12.90" height="6.50" fill="#9ee7bf" stroke="rgba(0,0,0,0.6)" stroke-width="0.7"/>
<text x="346.10" y="399.49" font-size="4.8" text-anchor="middle" font-weight="normal" fill="#222" textLength="15.40" lengthAdjust="spacingAndGlyphs" stroke="#222" stroke-width="0.12" >GL1-E1</text>
<rect x="354.20" y="387.10" width="13.00" height="6.50" fill="#ab9eea" stroke="rgba(0,0,0,0.6)" stroke-width="0.7"/>
<text x="361.70" y="399.49" font-size="4.8" text-anchor="middle" font-weight="normal" fill="#222" textLength="15.00" lengthAdjust="spacingAndGlyphs" stroke="#222" stroke-width="0.12" >GL1-E2</text>
<rect x="370.20" y="387.10" width="13.20" height="6.50" fill="#f9afab" stroke="rgba(0,0,0,0.6)" stroke-width="0.7"/>
<text x="378.55" y="399.49" font-size="4.8" text-anchor="middle" font-weight="normal" fill="#222" textLength="7.70" lengthAdjust="spacingAndGlyphs" stroke="#222" stroke-width="0.12" >LPS</text>
<text x="274.50" y="507.72" font-size="5.2" text-anchor="middle" font-weight="normal" fill="#333" stroke="#333" stroke-width="0.1" >CK</text>
<text x="311.30" y="507.72" font-size="5.2" text-anchor="middle" font-weight="normal" fill="#333" stroke="#333" stroke-width="0.1" >LPS</text>
<text x="330.00" y="508.12" font-size="5.2" text-anchor="middle" font-weight="normal" fill="#333" stroke="#333" stroke-width="0.1" >50</text>
<text x="356.30" y="508.12" font-size="5.2" text-anchor="middle" font-weight="normal" fill="#333" stroke="#333" stroke-width="0.1" >100</text>
<text x="382.20" y="508.12" font-size="5.2" text-anchor="middle" font-weight="normal" fill="#333" stroke="#333" stroke-width="0.1" >200</text>
<text x="409.40" y="508.12" font-size="5.2" text-anchor="middle" font-weight="normal" fill="#333" stroke="#333" stroke-width="0.1" >400</text>
<line x1="320.00" y1="510.00" x2="416.80" y2="510.00" stroke="#777" stroke-width="0.8"/>
<text x="367.05" y="517.68" font-size="6.6" text-anchor="middle" font-weight="normal" fill="#222" textLength="53.10" lengthAdjust="spacingAndGlyphs" stroke="#222" stroke-width="0.1" >Concentration (&#956;g/mL)</text>
<text x="338.00" y="542.01" font-size="9.4" text-anchor="middle" font-weight="bold" fill="#111" >(f)</text>
<text x="255.70" y="451.19" font-size="6.0" text-anchor="middle" font-weight="normal" fill="#222" textLength="55.70" lengthAdjust="spacingAndGlyphs" stroke="#222" stroke-width="0.1" transform="rotate(-90 255.70 449.20)">Relative expression (iNOS)</text></svg></div>
</body></html>
